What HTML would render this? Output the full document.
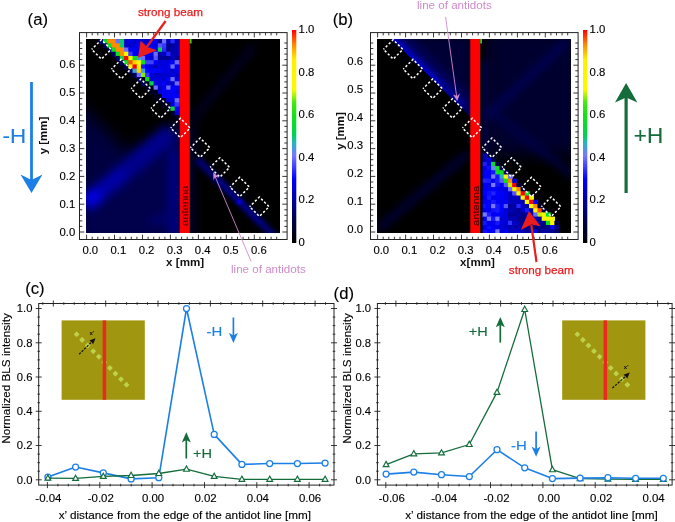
<!DOCTYPE html>
<html><head><meta charset="utf-8"><title>figure</title>
<style>html,body{margin:0;padding:0;background:#fff}svg{display:block}</style></head>
<body>
<svg width="675" height="522" viewBox="0 0 675 522" font-family="Liberation Sans, Arial, sans-serif">
<defs>
<filter id="b1" x="-20%" y="-20%" width="140%" height="140%"><feGaussianBlur stdDeviation="0.7"/></filter>
<filter id="b2" x="-100%" y="-100%" width="300%" height="300%"><feGaussianBlur stdDeviation="1.3"/></filter>
<filter id="b4" x="-50%" y="-50%" width="200%" height="200%"><feGaussianBlur stdDeviation="4"/></filter>
<filter id="b3" x="-50%" y="-50%" width="200%" height="200%"><feGaussianBlur stdDeviation="2.5"/></filter>
<filter id="b8" x="-50%" y="-50%" width="200%" height="200%"><feGaussianBlur stdDeviation="8"/></filter>
<linearGradient id="cb" x1="0" y1="1" x2="0" y2="0">
<stop offset="0.0" stop-color="#000000"/>
<stop offset="0.1" stop-color="#000046"/>
<stop offset="0.2" stop-color="#0000a0"/>
<stop offset="0.3" stop-color="#0000ff"/>
<stop offset="0.41" stop-color="#7878ff"/>
<stop offset="0.47" stop-color="#28b4be"/>
<stop offset="0.51" stop-color="#00d250"/>
<stop offset="0.6" stop-color="#14e114"/>
<stop offset="0.66" stop-color="#46e80f"/>
<stop offset="0.72" stop-color="#fafa00"/>
<stop offset="0.86" stop-color="#fff000"/>
<stop offset="0.93" stop-color="#ff8c00"/>
<stop offset="1.0" stop-color="#ff0000"/>
</linearGradient>
<clipPath id="clipA"><rect x="86" y="39" width="194" height="194"/></clipPath>
<clipPath id="clipB"><rect x="377" y="39" width="194" height="194"/></clipPath>
</defs>
<rect width="675" height="522" fill="#fff"/>
<rect x="79.5" y="32.6" width="207.60000000000002" height="206.9" fill="#fff" stroke="#222" stroke-width="1"/><path d="M86.6 239.5v-4.8M86.6 32.6v4.8" stroke="#222" stroke-width="0.9"/><path d="M92.2 239.5v-2.8M92.2 32.6v2.8" stroke="#222" stroke-width="0.9"/><path d="M97.8 239.5v-2.8M97.8 32.6v2.8" stroke="#222" stroke-width="0.9"/><path d="M103.4 239.5v-2.8M103.4 32.6v2.8" stroke="#222" stroke-width="0.9"/><path d="M109.0 239.5v-2.8M109.0 32.6v2.8" stroke="#222" stroke-width="0.9"/><path d="M114.5 239.5v-4.8M114.5 32.6v4.8" stroke="#222" stroke-width="0.9"/><path d="M120.1 239.5v-2.8M120.1 32.6v2.8" stroke="#222" stroke-width="0.9"/><path d="M125.7 239.5v-2.8M125.7 32.6v2.8" stroke="#222" stroke-width="0.9"/><path d="M131.3 239.5v-2.8M131.3 32.6v2.8" stroke="#222" stroke-width="0.9"/><path d="M136.9 239.5v-2.8M136.9 32.6v2.8" stroke="#222" stroke-width="0.9"/><path d="M142.5 239.5v-4.8M142.5 32.6v4.8" stroke="#222" stroke-width="0.9"/><path d="M148.1 239.5v-2.8M148.1 32.6v2.8" stroke="#222" stroke-width="0.9"/><path d="M153.7 239.5v-2.8M153.7 32.6v2.8" stroke="#222" stroke-width="0.9"/><path d="M159.3 239.5v-2.8M159.3 32.6v2.8" stroke="#222" stroke-width="0.9"/><path d="M164.9 239.5v-2.8M164.9 32.6v2.8" stroke="#222" stroke-width="0.9"/><path d="M170.4 239.5v-4.8M170.4 32.6v4.8" stroke="#222" stroke-width="0.9"/><path d="M176.0 239.5v-2.8M176.0 32.6v2.8" stroke="#222" stroke-width="0.9"/><path d="M181.6 239.5v-2.8M181.6 32.6v2.8" stroke="#222" stroke-width="0.9"/><path d="M187.2 239.5v-2.8M187.2 32.6v2.8" stroke="#222" stroke-width="0.9"/><path d="M192.8 239.5v-2.8M192.8 32.6v2.8" stroke="#222" stroke-width="0.9"/><path d="M198.4 239.5v-4.8M198.4 32.6v4.8" stroke="#222" stroke-width="0.9"/><path d="M204.0 239.5v-2.8M204.0 32.6v2.8" stroke="#222" stroke-width="0.9"/><path d="M209.6 239.5v-2.8M209.6 32.6v2.8" stroke="#222" stroke-width="0.9"/><path d="M215.2 239.5v-2.8M215.2 32.6v2.8" stroke="#222" stroke-width="0.9"/><path d="M220.8 239.5v-2.8M220.8 32.6v2.8" stroke="#222" stroke-width="0.9"/><path d="M226.3 239.5v-4.8M226.3 32.6v4.8" stroke="#222" stroke-width="0.9"/><path d="M231.9 239.5v-2.8M231.9 32.6v2.8" stroke="#222" stroke-width="0.9"/><path d="M237.5 239.5v-2.8M237.5 32.6v2.8" stroke="#222" stroke-width="0.9"/><path d="M243.1 239.5v-2.8M243.1 32.6v2.8" stroke="#222" stroke-width="0.9"/><path d="M248.7 239.5v-2.8M248.7 32.6v2.8" stroke="#222" stroke-width="0.9"/><path d="M254.3 239.5v-4.8M254.3 32.6v4.8" stroke="#222" stroke-width="0.9"/><path d="M259.9 239.5v-2.8M259.9 32.6v2.8" stroke="#222" stroke-width="0.9"/><path d="M265.5 239.5v-2.8M265.5 32.6v2.8" stroke="#222" stroke-width="0.9"/><path d="M271.1 239.5v-2.8M271.1 32.6v2.8" stroke="#222" stroke-width="0.9"/><path d="M276.7 239.5v-2.8M276.7 32.6v2.8" stroke="#222" stroke-width="0.9"/><path d="M79.5 232.0h4.8M287.1 232.0h-4.8" stroke="#222" stroke-width="0.9"/><path d="M79.5 226.4h2.8M287.1 226.4h-2.8" stroke="#222" stroke-width="0.9"/><path d="M79.5 220.9h2.8M287.1 220.9h-2.8" stroke="#222" stroke-width="0.9"/><path d="M79.5 215.3h2.8M287.1 215.3h-2.8" stroke="#222" stroke-width="0.9"/><path d="M79.5 209.8h2.8M287.1 209.8h-2.8" stroke="#222" stroke-width="0.9"/><path d="M79.5 204.2h4.8M287.1 204.2h-4.8" stroke="#222" stroke-width="0.9"/><path d="M79.5 198.6h2.8M287.1 198.6h-2.8" stroke="#222" stroke-width="0.9"/><path d="M79.5 193.1h2.8M287.1 193.1h-2.8" stroke="#222" stroke-width="0.9"/><path d="M79.5 187.5h2.8M287.1 187.5h-2.8" stroke="#222" stroke-width="0.9"/><path d="M79.5 182.0h2.8M287.1 182.0h-2.8" stroke="#222" stroke-width="0.9"/><path d="M79.5 176.4h4.8M287.1 176.4h-4.8" stroke="#222" stroke-width="0.9"/><path d="M79.5 170.8h2.8M287.1 170.8h-2.8" stroke="#222" stroke-width="0.9"/><path d="M79.5 165.3h2.8M287.1 165.3h-2.8" stroke="#222" stroke-width="0.9"/><path d="M79.5 159.7h2.8M287.1 159.7h-2.8" stroke="#222" stroke-width="0.9"/><path d="M79.5 154.2h2.8M287.1 154.2h-2.8" stroke="#222" stroke-width="0.9"/><path d="M79.5 148.6h4.8M287.1 148.6h-4.8" stroke="#222" stroke-width="0.9"/><path d="M79.5 143.0h2.8M287.1 143.0h-2.8" stroke="#222" stroke-width="0.9"/><path d="M79.5 137.5h2.8M287.1 137.5h-2.8" stroke="#222" stroke-width="0.9"/><path d="M79.5 131.9h2.8M287.1 131.9h-2.8" stroke="#222" stroke-width="0.9"/><path d="M79.5 126.4h2.8M287.1 126.4h-2.8" stroke="#222" stroke-width="0.9"/><path d="M79.5 120.8h4.8M287.1 120.8h-4.8" stroke="#222" stroke-width="0.9"/><path d="M79.5 115.2h2.8M287.1 115.2h-2.8" stroke="#222" stroke-width="0.9"/><path d="M79.5 109.7h2.8M287.1 109.7h-2.8" stroke="#222" stroke-width="0.9"/><path d="M79.5 104.1h2.8M287.1 104.1h-2.8" stroke="#222" stroke-width="0.9"/><path d="M79.5 98.6h2.8M287.1 98.6h-2.8" stroke="#222" stroke-width="0.9"/><path d="M79.5 93.0h4.8M287.1 93.0h-4.8" stroke="#222" stroke-width="0.9"/><path d="M79.5 87.4h2.8M287.1 87.4h-2.8" stroke="#222" stroke-width="0.9"/><path d="M79.5 81.9h2.8M287.1 81.9h-2.8" stroke="#222" stroke-width="0.9"/><path d="M79.5 76.3h2.8M287.1 76.3h-2.8" stroke="#222" stroke-width="0.9"/><path d="M79.5 70.8h2.8M287.1 70.8h-2.8" stroke="#222" stroke-width="0.9"/><path d="M79.5 65.2h4.8M287.1 65.2h-4.8" stroke="#222" stroke-width="0.9"/><path d="M79.5 59.6h2.8M287.1 59.6h-2.8" stroke="#222" stroke-width="0.9"/><path d="M79.5 54.1h2.8M287.1 54.1h-2.8" stroke="#222" stroke-width="0.9"/><path d="M79.5 48.5h2.8M287.1 48.5h-2.8" stroke="#222" stroke-width="0.9"/><path d="M79.5 43.0h2.8M287.1 43.0h-2.8" stroke="#222" stroke-width="0.9"/>
<g clip-path="url(#clipA)">
<rect x="86" y="39" width="194" height="194" fill="#000"/>
<g filter="url(#b8)"><path d="M76 152L128 152L190 118L190 245L76 245Z" fill="#00004c"/><path d="M76 100L132 158L76 200Z" fill="#000040"/></g>
<g filter="url(#b4)"><path d="M84 206L172 132" stroke="#00008c" stroke-width="18" fill="none"/><path d="M84 204L124 172" stroke="#0000a8" stroke-width="12" fill="none"/><circle cx="93" cy="197" r="8" fill="#0000e0"/><path d="M173 150V236" stroke="#000088" stroke-width="9"/><path d="M150 222L176 214" stroke="#000070" stroke-width="8"/><path d="M192 120L255 45" stroke="#000024" stroke-width="8"/></g>
<g filter="url(#b3)"><path d="M197 159L277 239" stroke="#000078" stroke-width="7" fill="none"/><path d="M215 177L262 224" stroke="#00009c" stroke-width="4" fill="none"/></g><circle cx="239.4" cy="202" r="2.4" fill="#0000f0" filter="url(#b2)"/>
<g filter="url(#b1)"><rect x="98.75" y="39.10" width="4.92" height="4.92" fill="#00007c"/><rect x="102.97" y="39.10" width="4.92" height="4.92" fill="#10de21"/><rect x="107.19" y="39.10" width="4.92" height="4.92" fill="#ff8c00"/><rect x="111.40" y="39.10" width="4.92" height="4.92" fill="#ff8c00"/><rect x="115.62" y="39.10" width="4.92" height="4.92" fill="#6d6dff"/><rect x="119.84" y="39.10" width="4.92" height="4.92" fill="#0aca6c"/><rect x="124.06" y="39.10" width="4.92" height="4.92" fill="#0000ca"/><rect x="128.27" y="39.10" width="4.92" height="4.92" fill="#0000e8"/><rect x="132.49" y="39.10" width="4.92" height="4.92" fill="#0000c8"/><rect x="136.71" y="39.10" width="4.92" height="4.92" fill="#0000e3"/><rect x="140.93" y="39.10" width="4.92" height="4.92" fill="#0000cb"/><rect x="145.14" y="39.10" width="4.92" height="4.92" fill="#0000cc"/><rect x="149.36" y="39.10" width="4.92" height="4.92" fill="#0000e2"/><rect x="153.58" y="39.10" width="4.92" height="4.92" fill="#0000fd"/><rect x="157.80" y="39.10" width="4.92" height="4.92" fill="#000096"/><rect x="162.01" y="39.10" width="4.92" height="4.92" fill="#6d6dff"/><rect x="166.23" y="39.10" width="4.92" height="4.92" fill="#0000b7"/><rect x="170.45" y="39.10" width="4.92" height="4.92" fill="#2828ff"/><rect x="174.67" y="39.10" width="4.92" height="4.92" fill="#0000b3"/><rect x="102.97" y="43.32" width="4.92" height="4.92" fill="#000061"/><rect x="107.19" y="43.32" width="4.92" height="4.92" fill="#10de21"/><rect x="111.40" y="43.32" width="4.92" height="4.92" fill="#ff8c00"/><rect x="115.62" y="43.32" width="4.92" height="4.92" fill="#ff8c00"/><rect x="119.84" y="43.32" width="4.92" height="4.92" fill="#0aca6c"/><rect x="124.06" y="43.32" width="4.92" height="4.92" fill="#0000d0"/><rect x="128.27" y="43.32" width="4.92" height="4.92" fill="#0000ce"/><rect x="132.49" y="43.32" width="4.92" height="4.92" fill="#0000db"/><rect x="136.71" y="43.32" width="4.92" height="4.92" fill="#0000fc"/><rect x="140.93" y="43.32" width="4.92" height="4.92" fill="#0000d2"/><rect x="145.14" y="43.32" width="4.92" height="4.92" fill="#0000ed"/><rect x="149.36" y="43.32" width="4.92" height="4.92" fill="#0000f0"/><rect x="153.58" y="43.32" width="4.92" height="4.92" fill="#0000df"/><rect x="157.80" y="43.32" width="4.92" height="4.92" fill="#5757ff"/><rect x="162.01" y="43.32" width="4.92" height="4.92" fill="#3737ff"/><rect x="166.23" y="43.32" width="4.92" height="4.92" fill="#000092"/><rect x="170.45" y="43.32" width="4.92" height="4.92" fill="#00009b"/><rect x="174.67" y="43.32" width="4.92" height="4.92" fill="#0000ba"/><rect x="107.19" y="47.53" width="4.92" height="4.92" fill="#000061"/><rect x="111.40" y="47.53" width="4.92" height="4.92" fill="#10de21"/><rect x="115.62" y="47.53" width="4.92" height="4.92" fill="#ff8c00"/><rect x="119.84" y="47.53" width="4.92" height="4.92" fill="#ff8c00"/><rect x="124.06" y="47.53" width="4.92" height="4.92" fill="#6d6dff"/><rect x="128.27" y="47.53" width="4.92" height="4.92" fill="#0000fb"/><rect x="132.49" y="47.53" width="4.92" height="4.92" fill="#0000f4"/><rect x="136.71" y="47.53" width="4.92" height="4.92" fill="#0000d6"/><rect x="140.93" y="47.53" width="4.92" height="4.92" fill="#0000ec"/><rect x="145.14" y="47.53" width="4.92" height="4.92" fill="#0000e9"/><rect x="149.36" y="47.53" width="4.92" height="4.92" fill="#0101ff"/><rect x="153.58" y="47.53" width="4.92" height="4.92" fill="#0000f7"/><rect x="157.80" y="47.53" width="4.92" height="4.92" fill="#09d935"/><rect x="162.01" y="47.53" width="4.92" height="4.92" fill="#2a2aff"/><rect x="166.23" y="47.53" width="4.92" height="4.92" fill="#000095"/><rect x="170.45" y="47.53" width="4.92" height="4.92" fill="#0000a9"/><rect x="174.67" y="47.53" width="4.92" height="4.92" fill="#0000bf"/><rect x="111.40" y="51.75" width="4.92" height="4.92" fill="#000061"/><rect x="115.62" y="51.75" width="4.92" height="4.92" fill="#10de21"/><rect x="119.84" y="51.75" width="4.92" height="4.92" fill="#ff8c00"/><rect x="124.06" y="51.75" width="4.92" height="4.92" fill="#fcf600"/><rect x="128.27" y="51.75" width="4.92" height="4.92" fill="#3737ff"/><rect x="132.49" y="51.75" width="4.92" height="4.92" fill="#0000ec"/><rect x="136.71" y="51.75" width="4.92" height="4.92" fill="#0101ff"/><rect x="140.93" y="51.75" width="4.92" height="4.92" fill="#0000db"/><rect x="145.14" y="51.75" width="4.92" height="4.92" fill="#0000f4"/><rect x="149.36" y="51.75" width="4.92" height="4.92" fill="#0000ee"/><rect x="153.58" y="51.75" width="4.92" height="4.92" fill="#6d6dff"/><rect x="157.80" y="51.75" width="4.92" height="4.92" fill="#0000ab"/><rect x="162.01" y="51.75" width="4.92" height="4.92" fill="#0000c5"/><rect x="166.23" y="51.75" width="4.92" height="4.92" fill="#2727ff"/><rect x="170.45" y="51.75" width="4.92" height="4.92" fill="#0000ad"/><rect x="174.67" y="51.75" width="4.92" height="4.92" fill="#0000b9"/><rect x="115.62" y="55.97" width="4.92" height="4.92" fill="#000061"/><rect x="119.84" y="55.97" width="4.92" height="4.92" fill="#07d73c"/><rect x="124.06" y="55.97" width="4.92" height="4.92" fill="#ff0000"/><rect x="128.27" y="55.97" width="4.92" height="4.92" fill="#fcf600"/><rect x="132.49" y="55.97" width="4.92" height="4.92" fill="#10de21"/><rect x="136.71" y="55.97" width="4.92" height="4.92" fill="#43a0d4"/><rect x="140.93" y="55.97" width="4.92" height="4.92" fill="#6d6dff"/><rect x="145.14" y="55.97" width="4.92" height="4.92" fill="#0000f2"/><rect x="149.36" y="55.97" width="4.92" height="4.92" fill="#0000c8"/><rect x="153.58" y="55.97" width="4.92" height="4.92" fill="#5757ff"/><rect x="157.80" y="55.97" width="4.92" height="4.92" fill="#000099"/><rect x="162.01" y="55.97" width="4.92" height="4.92" fill="#000095"/><rect x="166.23" y="55.97" width="4.92" height="4.92" fill="#000092"/><rect x="170.45" y="55.97" width="4.92" height="4.92" fill="#0000c0"/><rect x="174.67" y="55.97" width="4.92" height="4.92" fill="#000096"/><rect x="119.84" y="60.19" width="4.92" height="4.92" fill="#000061"/><rect x="124.06" y="60.19" width="4.92" height="4.92" fill="#10de21"/><rect x="128.27" y="60.19" width="4.92" height="4.92" fill="#ff5000"/><rect x="132.49" y="60.19" width="4.92" height="4.92" fill="#ffd300"/><rect x="136.71" y="60.19" width="4.92" height="4.92" fill="#fcf600"/><rect x="140.93" y="60.19" width="4.92" height="4.92" fill="#10de21"/><rect x="145.14" y="60.19" width="4.92" height="4.92" fill="#4141ff"/><rect x="149.36" y="60.19" width="4.92" height="4.92" fill="#4141ff"/><rect x="153.58" y="60.19" width="4.92" height="4.92" fill="#0101ff"/><rect x="157.80" y="60.19" width="4.92" height="4.92" fill="#0000d9"/><rect x="162.01" y="60.19" width="4.92" height="4.92" fill="#0000e2"/><rect x="166.23" y="60.19" width="4.92" height="4.92" fill="#0000de"/><rect x="170.45" y="60.19" width="4.92" height="4.92" fill="#0202ff"/><rect x="174.67" y="60.19" width="4.92" height="4.92" fill="#6a6aff"/><rect x="124.06" y="64.40" width="4.92" height="4.92" fill="#000061"/><rect x="128.27" y="64.40" width="4.92" height="4.92" fill="#fcf600"/><rect x="132.49" y="64.40" width="4.92" height="4.92" fill="#ff0000"/><rect x="136.71" y="64.40" width="4.92" height="4.92" fill="#fdf400"/><rect x="140.93" y="64.40" width="4.92" height="4.92" fill="#1616ff"/><rect x="145.14" y="64.40" width="4.92" height="4.92" fill="#0000ed"/><rect x="149.36" y="64.40" width="4.92" height="4.92" fill="#0000d7"/><rect x="153.58" y="64.40" width="4.92" height="4.92" fill="#0000c6"/><rect x="157.80" y="64.40" width="4.92" height="4.92" fill="#0000e2"/><rect x="162.01" y="64.40" width="4.92" height="4.92" fill="#0000df"/><rect x="166.23" y="64.40" width="4.92" height="4.92" fill="#0000ec"/><rect x="170.45" y="64.40" width="4.92" height="4.92" fill="#6a6aff"/><rect x="174.67" y="64.40" width="4.92" height="4.92" fill="#0000f4"/><rect x="128.27" y="68.62" width="4.92" height="4.92" fill="#000061"/><rect x="132.49" y="68.62" width="4.92" height="4.92" fill="#43a0d4"/><rect x="136.71" y="68.62" width="4.92" height="4.92" fill="#ffd300"/><rect x="140.93" y="68.62" width="4.92" height="4.92" fill="#43a0d4"/><rect x="145.14" y="68.62" width="4.92" height="4.92" fill="#0303ff"/><rect x="149.36" y="68.62" width="4.92" height="4.92" fill="#0000fa"/><rect x="153.58" y="68.62" width="4.92" height="4.92" fill="#0101ff"/><rect x="157.80" y="68.62" width="4.92" height="4.92" fill="#0000fb"/><rect x="162.01" y="68.62" width="4.92" height="4.92" fill="#0000e0"/><rect x="166.23" y="68.62" width="4.92" height="4.92" fill="#0000e1"/><rect x="170.45" y="68.62" width="4.92" height="4.92" fill="#0000cd"/><rect x="174.67" y="68.62" width="4.92" height="4.92" fill="#0000f0"/><rect x="132.49" y="72.84" width="4.92" height="4.92" fill="#000061"/><rect x="136.71" y="72.84" width="4.92" height="4.92" fill="#6d6dff"/><rect x="140.93" y="72.84" width="4.92" height="4.92" fill="#82ee0a"/><rect x="145.14" y="72.84" width="4.92" height="4.92" fill="#3737ff"/><rect x="149.36" y="72.84" width="4.92" height="4.92" fill="#0000dd"/><rect x="153.58" y="72.84" width="4.92" height="4.92" fill="#0000c9"/><rect x="157.80" y="72.84" width="4.92" height="4.92" fill="#0000c6"/><rect x="162.01" y="72.84" width="4.92" height="4.92" fill="#0000d0"/><rect x="166.23" y="72.84" width="4.92" height="4.92" fill="#0000cd"/><rect x="170.45" y="72.84" width="4.92" height="4.92" fill="#0000de"/><rect x="174.67" y="72.84" width="4.92" height="4.92" fill="#0000c8"/><rect x="136.71" y="77.06" width="4.92" height="4.92" fill="#000061"/><rect x="140.93" y="77.06" width="4.92" height="4.92" fill="#00001c"/><rect x="145.14" y="77.06" width="4.92" height="4.92" fill="#10de21"/><rect x="149.36" y="77.06" width="4.92" height="4.92" fill="#0000d7"/><rect x="153.58" y="77.06" width="4.92" height="4.92" fill="#0000dd"/><rect x="157.80" y="77.06" width="4.92" height="4.92" fill="#0000de"/><rect x="162.01" y="77.06" width="4.92" height="4.92" fill="#0000ce"/><rect x="166.23" y="77.06" width="4.92" height="4.92" fill="#0000fe"/><rect x="170.45" y="77.06" width="4.92" height="4.92" fill="#6d6dff"/><rect x="174.67" y="77.06" width="4.92" height="4.92" fill="#0000e5"/><rect x="140.93" y="81.27" width="4.92" height="4.92" fill="#000061"/><rect x="145.14" y="81.27" width="4.92" height="4.92" fill="#00001c"/><rect x="149.36" y="81.27" width="4.92" height="4.92" fill="#02d449"/><rect x="153.58" y="81.27" width="4.92" height="4.92" fill="#0000dd"/><rect x="157.80" y="81.27" width="4.92" height="4.92" fill="#0000d8"/><rect x="162.01" y="81.27" width="4.92" height="4.92" fill="#0000fd"/><rect x="166.23" y="81.27" width="4.92" height="4.92" fill="#0000d1"/><rect x="170.45" y="81.27" width="4.92" height="4.92" fill="#0000c8"/><rect x="174.67" y="81.27" width="4.92" height="4.92" fill="#6969ff"/><rect x="145.14" y="85.49" width="4.92" height="4.92" fill="#000023"/><rect x="149.36" y="85.49" width="4.92" height="4.92" fill="#00001c"/><rect x="153.58" y="85.49" width="4.92" height="4.92" fill="#6d6dff"/><rect x="157.80" y="85.49" width="4.92" height="4.92" fill="#0000c8"/><rect x="162.01" y="85.49" width="4.92" height="4.92" fill="#0000e9"/><rect x="166.23" y="85.49" width="4.92" height="4.92" fill="#6b6bff"/><rect x="170.45" y="85.49" width="4.92" height="4.92" fill="#0000ff"/><rect x="174.67" y="85.49" width="4.92" height="4.92" fill="#0000f4"/><rect x="149.36" y="89.71" width="4.92" height="4.92" fill="#000023"/><rect x="153.58" y="89.71" width="4.92" height="4.92" fill="#00001c"/><rect x="157.80" y="89.71" width="4.92" height="4.92" fill="#0000d6"/><rect x="162.01" y="89.71" width="4.92" height="4.92" fill="#0000f9"/><rect x="166.23" y="89.71" width="4.92" height="4.92" fill="#0000e9"/><rect x="170.45" y="89.71" width="4.92" height="4.92" fill="#0000fa"/><rect x="174.67" y="89.71" width="4.92" height="4.92" fill="#0000dc"/><rect x="153.58" y="93.93" width="4.92" height="4.92" fill="#000023"/><rect x="157.80" y="93.93" width="4.92" height="4.92" fill="#00001c"/><rect x="162.01" y="93.93" width="4.92" height="4.92" fill="#0000f5"/><rect x="166.23" y="93.93" width="4.92" height="4.92" fill="#0000ff"/><rect x="170.45" y="93.93" width="4.92" height="4.92" fill="#0000fc"/><rect x="174.67" y="93.93" width="4.92" height="4.92" fill="#0000fc"/><rect x="157.80" y="98.14" width="4.92" height="4.92" fill="#000023"/><rect x="162.01" y="98.14" width="4.92" height="4.92" fill="#00001c"/><rect x="166.23" y="98.14" width="4.92" height="4.92" fill="#0000e2"/><rect x="170.45" y="98.14" width="4.92" height="4.92" fill="#0000de"/><rect x="174.67" y="98.14" width="4.92" height="4.92" fill="#6d6dff"/><rect x="162.01" y="102.36" width="4.92" height="4.92" fill="#000023"/><rect x="166.23" y="102.36" width="4.92" height="4.92" fill="#00001c"/><rect x="170.45" y="102.36" width="4.92" height="4.92" fill="#0000ec"/><rect x="174.67" y="102.36" width="4.92" height="4.92" fill="#3737ff"/><rect x="166.23" y="106.58" width="4.92" height="4.92" fill="#000023"/><rect x="170.45" y="106.58" width="4.92" height="4.92" fill="#09d935"/><rect x="174.67" y="106.58" width="4.92" height="4.92" fill="#0000ff"/><rect x="170.45" y="110.80" width="4.92" height="4.92" fill="#000023"/><rect x="174.67" y="110.80" width="4.92" height="4.92" fill="#0000d9"/><rect x="174.67" y="115.01" width="4.92" height="4.92" fill="#000023"/></g>
<rect x="179.7" y="39" width="10.1" height="194" fill="#ff0000"/>
<rect x="189.8" y="39" width="1.8" height="4.5" fill="#30d020"/>
<g fill="none" stroke="#fff" stroke-width="1.5" stroke-dasharray="2.3 2.03" stroke-dashoffset="1.15"><path d="M91.7 49.4L101.4 39.7L111.1 49.4L101.4 59.1Z"/><path d="M111.5 69.1L121.2 59.4L130.8 69.1L121.2 78.8Z"/><path d="M131.2 88.7L140.9 79.0L150.6 88.7L140.9 98.4Z"/><path d="M151.0 108.4L160.7 98.7L170.3 108.4L160.7 118.1Z"/><path d="M170.7 128.0L180.4 118.3L190.1 128.0L180.4 137.7Z"/><path d="M190.5 147.7L200.2 138.0L209.8 147.7L200.2 157.4Z"/><path d="M210.2 167.4L219.9 157.7L229.6 167.4L219.9 177.1Z"/><path d="M230.0 187.0L239.7 177.3L249.3 187.0L239.7 196.7Z"/><path d="M249.7 206.7L259.4 197.0L269.1 206.7L259.4 216.4Z"/></g>
</g>
<text transform="translate(188,225.9) rotate(-90) scale(1.12,1)" font-size="9.9" fill="#5c0000" stroke="#5c0000" stroke-width="0.25">antenna</text>
<rect x="370.5" y="32.6" width="207.60000000000002" height="206.9" fill="#fff" stroke="#222" stroke-width="1"/><path d="M377.6 239.5v-4.8M377.6 32.6v4.8" stroke="#222" stroke-width="0.9"/><path d="M383.2 239.5v-2.8M383.2 32.6v2.8" stroke="#222" stroke-width="0.9"/><path d="M388.8 239.5v-2.8M388.8 32.6v2.8" stroke="#222" stroke-width="0.9"/><path d="M394.4 239.5v-2.8M394.4 32.6v2.8" stroke="#222" stroke-width="0.9"/><path d="M400.0 239.5v-2.8M400.0 32.6v2.8" stroke="#222" stroke-width="0.9"/><path d="M405.6 239.5v-4.8M405.6 32.6v4.8" stroke="#222" stroke-width="0.9"/><path d="M411.1 239.5v-2.8M411.1 32.6v2.8" stroke="#222" stroke-width="0.9"/><path d="M416.7 239.5v-2.8M416.7 32.6v2.8" stroke="#222" stroke-width="0.9"/><path d="M422.3 239.5v-2.8M422.3 32.6v2.8" stroke="#222" stroke-width="0.9"/><path d="M427.9 239.5v-2.8M427.9 32.6v2.8" stroke="#222" stroke-width="0.9"/><path d="M433.5 239.5v-4.8M433.5 32.6v4.8" stroke="#222" stroke-width="0.9"/><path d="M439.1 239.5v-2.8M439.1 32.6v2.8" stroke="#222" stroke-width="0.9"/><path d="M444.7 239.5v-2.8M444.7 32.6v2.8" stroke="#222" stroke-width="0.9"/><path d="M450.3 239.5v-2.8M450.3 32.6v2.8" stroke="#222" stroke-width="0.9"/><path d="M455.9 239.5v-2.8M455.9 32.6v2.8" stroke="#222" stroke-width="0.9"/><path d="M461.5 239.5v-4.8M461.5 32.6v4.8" stroke="#222" stroke-width="0.9"/><path d="M467.0 239.5v-2.8M467.0 32.6v2.8" stroke="#222" stroke-width="0.9"/><path d="M472.6 239.5v-2.8M472.6 32.6v2.8" stroke="#222" stroke-width="0.9"/><path d="M478.2 239.5v-2.8M478.2 32.6v2.8" stroke="#222" stroke-width="0.9"/><path d="M483.8 239.5v-2.8M483.8 32.6v2.8" stroke="#222" stroke-width="0.9"/><path d="M489.4 239.5v-4.8M489.4 32.6v4.8" stroke="#222" stroke-width="0.9"/><path d="M495.0 239.5v-2.8M495.0 32.6v2.8" stroke="#222" stroke-width="0.9"/><path d="M500.6 239.5v-2.8M500.6 32.6v2.8" stroke="#222" stroke-width="0.9"/><path d="M506.2 239.5v-2.8M506.2 32.6v2.8" stroke="#222" stroke-width="0.9"/><path d="M511.8 239.5v-2.8M511.8 32.6v2.8" stroke="#222" stroke-width="0.9"/><path d="M517.4 239.5v-4.8M517.4 32.6v4.8" stroke="#222" stroke-width="0.9"/><path d="M522.9 239.5v-2.8M522.9 32.6v2.8" stroke="#222" stroke-width="0.9"/><path d="M528.5 239.5v-2.8M528.5 32.6v2.8" stroke="#222" stroke-width="0.9"/><path d="M534.1 239.5v-2.8M534.1 32.6v2.8" stroke="#222" stroke-width="0.9"/><path d="M539.7 239.5v-2.8M539.7 32.6v2.8" stroke="#222" stroke-width="0.9"/><path d="M545.3 239.5v-4.8M545.3 32.6v4.8" stroke="#222" stroke-width="0.9"/><path d="M550.9 239.5v-2.8M550.9 32.6v2.8" stroke="#222" stroke-width="0.9"/><path d="M556.5 239.5v-2.8M556.5 32.6v2.8" stroke="#222" stroke-width="0.9"/><path d="M562.1 239.5v-2.8M562.1 32.6v2.8" stroke="#222" stroke-width="0.9"/><path d="M567.7 239.5v-2.8M567.7 32.6v2.8" stroke="#222" stroke-width="0.9"/><path d="M370.5 232.0h4.8M578.1 232.0h-4.8" stroke="#222" stroke-width="0.9"/><path d="M370.5 226.4h2.8M578.1 226.4h-2.8" stroke="#222" stroke-width="0.9"/><path d="M370.5 220.9h2.8M578.1 220.9h-2.8" stroke="#222" stroke-width="0.9"/><path d="M370.5 215.3h2.8M578.1 215.3h-2.8" stroke="#222" stroke-width="0.9"/><path d="M370.5 209.8h2.8M578.1 209.8h-2.8" stroke="#222" stroke-width="0.9"/><path d="M370.5 204.2h4.8M578.1 204.2h-4.8" stroke="#222" stroke-width="0.9"/><path d="M370.5 198.6h2.8M578.1 198.6h-2.8" stroke="#222" stroke-width="0.9"/><path d="M370.5 193.1h2.8M578.1 193.1h-2.8" stroke="#222" stroke-width="0.9"/><path d="M370.5 187.5h2.8M578.1 187.5h-2.8" stroke="#222" stroke-width="0.9"/><path d="M370.5 182.0h2.8M578.1 182.0h-2.8" stroke="#222" stroke-width="0.9"/><path d="M370.5 176.4h4.8M578.1 176.4h-4.8" stroke="#222" stroke-width="0.9"/><path d="M370.5 170.8h2.8M578.1 170.8h-2.8" stroke="#222" stroke-width="0.9"/><path d="M370.5 165.3h2.8M578.1 165.3h-2.8" stroke="#222" stroke-width="0.9"/><path d="M370.5 159.7h2.8M578.1 159.7h-2.8" stroke="#222" stroke-width="0.9"/><path d="M370.5 154.2h2.8M578.1 154.2h-2.8" stroke="#222" stroke-width="0.9"/><path d="M370.5 148.6h4.8M578.1 148.6h-4.8" stroke="#222" stroke-width="0.9"/><path d="M370.5 143.0h2.8M578.1 143.0h-2.8" stroke="#222" stroke-width="0.9"/><path d="M370.5 137.5h2.8M578.1 137.5h-2.8" stroke="#222" stroke-width="0.9"/><path d="M370.5 131.9h2.8M578.1 131.9h-2.8" stroke="#222" stroke-width="0.9"/><path d="M370.5 126.4h2.8M578.1 126.4h-2.8" stroke="#222" stroke-width="0.9"/><path d="M370.5 120.8h4.8M578.1 120.8h-4.8" stroke="#222" stroke-width="0.9"/><path d="M370.5 115.2h2.8M578.1 115.2h-2.8" stroke="#222" stroke-width="0.9"/><path d="M370.5 109.7h2.8M578.1 109.7h-2.8" stroke="#222" stroke-width="0.9"/><path d="M370.5 104.1h2.8M578.1 104.1h-2.8" stroke="#222" stroke-width="0.9"/><path d="M370.5 98.6h2.8M578.1 98.6h-2.8" stroke="#222" stroke-width="0.9"/><path d="M370.5 93.0h4.8M578.1 93.0h-4.8" stroke="#222" stroke-width="0.9"/><path d="M370.5 87.4h2.8M578.1 87.4h-2.8" stroke="#222" stroke-width="0.9"/><path d="M370.5 81.9h2.8M578.1 81.9h-2.8" stroke="#222" stroke-width="0.9"/><path d="M370.5 76.3h2.8M578.1 76.3h-2.8" stroke="#222" stroke-width="0.9"/><path d="M370.5 70.8h2.8M578.1 70.8h-2.8" stroke="#222" stroke-width="0.9"/><path d="M370.5 65.2h4.8M578.1 65.2h-4.8" stroke="#222" stroke-width="0.9"/><path d="M370.5 59.6h2.8M578.1 59.6h-2.8" stroke="#222" stroke-width="0.9"/><path d="M370.5 54.1h2.8M578.1 54.1h-2.8" stroke="#222" stroke-width="0.9"/><path d="M370.5 48.5h2.8M578.1 48.5h-2.8" stroke="#222" stroke-width="0.9"/><path d="M370.5 43.0h2.8M578.1 43.0h-2.8" stroke="#222" stroke-width="0.9"/>
<g clip-path="url(#clipB)">
<rect x="377" y="39" width="194" height="194" fill="#000"/>
<g filter="url(#b8)"><rect x="486" y="30" width="94" height="125" fill="#00002e"/></g>
<clipPath id="clipB2"><path d="M383.6 31L480 126.2L480 30Z"/></clipPath>
<g clip-path="url(#clipB2)"><g filter="url(#b4)"><path d="M400 36L474 36L474 118Z" fill="#000036"/><path d="M385 31L478 123" stroke="#00005c" stroke-width="26" fill="none"/></g><g filter="url(#b3)"><path d="M385 31L462 107" stroke="#000098" stroke-width="10" fill="none"/><path d="M385 31L440 85" stroke="#0000c8" stroke-width="5" fill="none"/></g></g>
<g filter="url(#b4)"><path d="M483 120L566 42" stroke="#000060" stroke-width="6" fill="none"/><path d="M489 110L574 176" stroke="#000050" stroke-width="6" fill="none"/><path d="M378 229L469 153" stroke="#000048" stroke-width="6" fill="none"/><path d="M485 60L485 160" stroke="#000050" stroke-width="6" fill="none"/></g>
<g filter="url(#b1)"><rect x="482.63" y="153.37" width="4.92" height="4.92" fill="#0000b6"/><rect x="486.85" y="153.37" width="4.92" height="4.92" fill="#000038"/><rect x="482.63" y="157.59" width="4.92" height="4.92" fill="#0000b3"/><rect x="486.85" y="157.59" width="4.92" height="4.92" fill="#0000db"/><rect x="491.07" y="157.59" width="4.92" height="4.92" fill="#000054"/><rect x="482.63" y="161.80" width="4.92" height="4.92" fill="#1c1cff"/><rect x="486.85" y="161.80" width="4.92" height="4.92" fill="#0000ce"/><rect x="491.07" y="161.80" width="4.92" height="4.92" fill="#09d935"/><rect x="495.29" y="161.80" width="4.92" height="4.92" fill="#00004f"/><rect x="482.63" y="166.02" width="4.92" height="4.92" fill="#0000ec"/><rect x="486.85" y="166.02" width="4.92" height="4.92" fill="#1010ff"/><rect x="491.07" y="166.02" width="4.92" height="4.92" fill="#5d8ce9"/><rect x="495.29" y="166.02" width="4.92" height="4.92" fill="#10de21"/><rect x="499.50" y="166.02" width="4.92" height="4.92" fill="#00004d"/><rect x="482.63" y="170.24" width="4.92" height="4.92" fill="#0404ff"/><rect x="486.85" y="170.24" width="4.92" height="4.92" fill="#0000f1"/><rect x="491.07" y="170.24" width="4.92" height="4.92" fill="#1818ff"/><rect x="495.29" y="170.24" width="4.92" height="4.92" fill="#10de21"/><rect x="499.50" y="170.24" width="4.92" height="4.92" fill="#10de21"/><rect x="503.72" y="170.24" width="4.92" height="4.92" fill="#000057"/><rect x="482.63" y="174.46" width="4.92" height="4.92" fill="#0000fe"/><rect x="486.85" y="174.46" width="4.92" height="4.92" fill="#0000fe"/><rect x="491.07" y="174.46" width="4.92" height="4.92" fill="#7878ff"/><rect x="495.29" y="174.46" width="4.92" height="4.92" fill="#1414ff"/><rect x="499.50" y="174.46" width="4.92" height="4.92" fill="#28b4be"/><rect x="503.72" y="174.46" width="4.92" height="4.92" fill="#fcf600"/><rect x="507.94" y="174.46" width="4.92" height="4.92" fill="#6d6dff"/><rect x="482.63" y="178.67" width="4.92" height="4.92" fill="#2020ff"/><rect x="486.85" y="178.67" width="4.92" height="4.92" fill="#1a1aff"/><rect x="491.07" y="178.67" width="4.92" height="4.92" fill="#0000f0"/><rect x="495.29" y="178.67" width="4.92" height="4.92" fill="#1b1bff"/><rect x="499.50" y="178.67" width="4.92" height="4.92" fill="#5b5bff"/><rect x="503.72" y="178.67" width="4.92" height="4.92" fill="#14e114"/><rect x="507.94" y="178.67" width="4.92" height="4.92" fill="#ff8c00"/><rect x="512.16" y="178.67" width="4.92" height="4.92" fill="#0000d0"/><rect x="482.63" y="182.89" width="4.92" height="4.92" fill="#0000ef"/><rect x="486.85" y="182.89" width="4.92" height="4.92" fill="#0000e8"/><rect x="491.07" y="182.89" width="4.92" height="4.92" fill="#7878ff"/><rect x="495.29" y="182.89" width="4.92" height="4.92" fill="#0f0fff"/><rect x="499.50" y="182.89" width="4.92" height="4.92" fill="#0000e9"/><rect x="503.72" y="182.89" width="4.92" height="4.92" fill="#5858ff"/><rect x="507.94" y="182.89" width="4.92" height="4.92" fill="#bef405"/><rect x="512.16" y="182.89" width="4.92" height="4.92" fill="#ff0000"/><rect x="516.37" y="182.89" width="4.92" height="4.92" fill="#000050"/><rect x="482.63" y="187.11" width="4.92" height="4.92" fill="#0000f3"/><rect x="486.85" y="187.11" width="4.92" height="4.92" fill="#0000f6"/><rect x="491.07" y="187.11" width="4.92" height="4.92" fill="#0000f8"/><rect x="495.29" y="187.11" width="4.92" height="4.92" fill="#0000f5"/><rect x="499.50" y="187.11" width="4.92" height="4.92" fill="#0000ec"/><rect x="503.72" y="187.11" width="4.92" height="4.92" fill="#0000da"/><rect x="507.94" y="187.11" width="4.92" height="4.92" fill="#6d6dff"/><rect x="512.16" y="187.11" width="4.92" height="4.92" fill="#fcf600"/><rect x="516.37" y="187.11" width="4.92" height="4.92" fill="#ff8c00"/><rect x="520.59" y="187.11" width="4.92" height="4.92" fill="#00003d"/><rect x="482.63" y="191.33" width="4.92" height="4.92" fill="#0303ff"/><rect x="486.85" y="191.33" width="4.92" height="4.92" fill="#0b0bff"/><rect x="491.07" y="191.33" width="4.92" height="4.92" fill="#2020ff"/><rect x="495.29" y="191.33" width="4.92" height="4.92" fill="#0000ff"/><rect x="499.50" y="191.33" width="4.92" height="4.92" fill="#0000ff"/><rect x="503.72" y="191.33" width="4.92" height="4.92" fill="#0000e7"/><rect x="507.94" y="191.33" width="4.92" height="4.92" fill="#0000c7"/><rect x="512.16" y="191.33" width="4.92" height="4.92" fill="#5757ff"/><rect x="516.37" y="191.33" width="4.92" height="4.92" fill="#fcf600"/><rect x="520.59" y="191.33" width="4.92" height="4.92" fill="#ff0000"/><rect x="524.81" y="191.33" width="4.92" height="4.92" fill="#10de21"/><rect x="482.63" y="195.54" width="4.92" height="4.92" fill="#0000e7"/><rect x="486.85" y="195.54" width="4.92" height="4.92" fill="#1919ff"/><rect x="491.07" y="195.54" width="4.92" height="4.92" fill="#0000f1"/><rect x="495.29" y="195.54" width="4.92" height="4.92" fill="#0404ff"/><rect x="499.50" y="195.54" width="4.92" height="4.92" fill="#0000f4"/><rect x="503.72" y="195.54" width="4.92" height="4.92" fill="#0000ea"/><rect x="507.94" y="195.54" width="4.92" height="4.92" fill="#0000bb"/><rect x="512.16" y="195.54" width="4.92" height="4.92" fill="#0000c0"/><rect x="516.37" y="195.54" width="4.92" height="4.92" fill="#0000bd"/><rect x="520.59" y="195.54" width="4.92" height="4.92" fill="#fcf600"/><rect x="524.81" y="195.54" width="4.92" height="4.92" fill="#ff0000"/><rect x="529.03" y="195.54" width="4.92" height="4.92" fill="#fcf600"/><rect x="482.63" y="199.76" width="4.92" height="4.92" fill="#0000f5"/><rect x="486.85" y="199.76" width="4.92" height="4.92" fill="#0000f7"/><rect x="491.07" y="199.76" width="4.92" height="4.92" fill="#1717ff"/><rect x="495.29" y="199.76" width="4.92" height="4.92" fill="#0606ff"/><rect x="499.50" y="199.76" width="4.92" height="4.92" fill="#0000eb"/><rect x="503.72" y="199.76" width="4.92" height="4.92" fill="#0000f6"/><rect x="507.94" y="199.76" width="4.92" height="4.92" fill="#0000c0"/><rect x="512.16" y="199.76" width="4.92" height="4.92" fill="#0000bc"/><rect x="516.37" y="199.76" width="4.92" height="4.92" fill="#0000c0"/><rect x="520.59" y="199.76" width="4.92" height="4.92" fill="#0000b4"/><rect x="524.81" y="199.76" width="4.92" height="4.92" fill="#fcf600"/><rect x="529.03" y="199.76" width="4.92" height="4.92" fill="#ff0000"/><rect x="533.24" y="199.76" width="4.92" height="4.92" fill="#0000ec"/><rect x="482.63" y="203.98" width="4.92" height="4.92" fill="#0808ff"/><rect x="486.85" y="203.98" width="4.92" height="4.92" fill="#0404ff"/><rect x="491.07" y="203.98" width="4.92" height="4.92" fill="#7878ff"/><rect x="495.29" y="203.98" width="4.92" height="4.92" fill="#1212ff"/><rect x="499.50" y="203.98" width="4.92" height="4.92" fill="#0000fd"/><rect x="503.72" y="203.98" width="4.92" height="4.92" fill="#5959ff"/><rect x="507.94" y="203.98" width="4.92" height="4.92" fill="#00009b"/><rect x="512.16" y="203.98" width="4.92" height="4.92" fill="#0000a6"/><rect x="516.37" y="203.98" width="4.92" height="4.92" fill="#2525ff"/><rect x="520.59" y="203.98" width="4.92" height="4.92" fill="#0000c7"/><rect x="524.81" y="203.98" width="4.92" height="4.92" fill="#00009a"/><rect x="529.03" y="203.98" width="4.92" height="4.92" fill="#fcf600"/><rect x="533.24" y="203.98" width="4.92" height="4.92" fill="#ff8c00"/><rect x="537.46" y="203.98" width="4.92" height="4.92" fill="#000034"/><rect x="482.63" y="208.20" width="4.92" height="4.92" fill="#0000f5"/><rect x="486.85" y="208.20" width="4.92" height="4.92" fill="#0000eb"/><rect x="491.07" y="208.20" width="4.92" height="4.92" fill="#1111ff"/><rect x="495.29" y="208.20" width="4.92" height="4.92" fill="#1818ff"/><rect x="499.50" y="208.20" width="4.92" height="4.92" fill="#0000fe"/><rect x="503.72" y="208.20" width="4.92" height="4.92" fill="#0000d4"/><rect x="507.94" y="208.20" width="4.92" height="4.92" fill="#0000b5"/><rect x="512.16" y="208.20" width="4.92" height="4.92" fill="#0000ac"/><rect x="516.37" y="208.20" width="4.92" height="4.92" fill="#00008a"/><rect x="520.59" y="208.20" width="4.92" height="4.92" fill="#0000ca"/><rect x="524.81" y="208.20" width="4.92" height="4.92" fill="#1919ff"/><rect x="529.03" y="208.20" width="4.92" height="4.92" fill="#000099"/><rect x="533.24" y="208.20" width="4.92" height="4.92" fill="#fcf600"/><rect x="537.46" y="208.20" width="4.92" height="4.92" fill="#ff5000"/><rect x="541.68" y="208.20" width="4.92" height="4.92" fill="#000042"/><rect x="482.63" y="212.41" width="4.92" height="4.92" fill="#7878ff"/><rect x="486.85" y="212.41" width="4.92" height="4.92" fill="#1b1bff"/><rect x="491.07" y="212.41" width="4.92" height="4.92" fill="#0000f0"/><rect x="495.29" y="212.41" width="4.92" height="4.92" fill="#0101ff"/><rect x="499.50" y="212.41" width="4.92" height="4.92" fill="#0000e8"/><rect x="503.72" y="212.41" width="4.92" height="4.92" fill="#0000de"/><rect x="507.94" y="212.41" width="4.92" height="4.92" fill="#000098"/><rect x="512.16" y="212.41" width="4.92" height="4.92" fill="#000099"/><rect x="516.37" y="212.41" width="4.92" height="4.92" fill="#0000aa"/><rect x="520.59" y="212.41" width="4.92" height="4.92" fill="#00007e"/><rect x="524.81" y="212.41" width="4.92" height="4.92" fill="#0000b1"/><rect x="529.03" y="212.41" width="4.92" height="4.92" fill="#0000a5"/><rect x="533.24" y="212.41" width="4.92" height="4.92" fill="#6d6dff"/><rect x="537.46" y="212.41" width="4.92" height="4.92" fill="#bef405"/><rect x="541.68" y="212.41" width="4.92" height="4.92" fill="#fcf600"/><rect x="545.90" y="212.41" width="4.92" height="4.92" fill="#10de21"/><rect x="482.63" y="216.63" width="4.92" height="4.92" fill="#0000eb"/><rect x="486.85" y="216.63" width="4.92" height="4.92" fill="#7878ff"/><rect x="491.07" y="216.63" width="4.92" height="4.92" fill="#1818ff"/><rect x="495.29" y="216.63" width="4.92" height="4.92" fill="#7878ff"/><rect x="499.50" y="216.63" width="4.92" height="4.92" fill="#0000d1"/><rect x="503.72" y="216.63" width="4.92" height="4.92" fill="#0000da"/><rect x="507.94" y="216.63" width="4.92" height="4.92" fill="#0000ab"/><rect x="512.16" y="216.63" width="4.92" height="4.92" fill="#0000b3"/><rect x="516.37" y="216.63" width="4.92" height="4.92" fill="#000091"/><rect x="520.59" y="216.63" width="4.92" height="4.92" fill="#000084"/><rect x="524.81" y="216.63" width="4.92" height="4.92" fill="#00008e"/><rect x="529.03" y="216.63" width="4.92" height="4.92" fill="#0000c0"/><rect x="533.24" y="216.63" width="4.92" height="4.92" fill="#0000b5"/><rect x="537.46" y="216.63" width="4.92" height="4.92" fill="#000090"/><rect x="541.68" y="216.63" width="4.92" height="4.92" fill="#fcf600"/><rect x="545.90" y="216.63" width="4.92" height="4.92" fill="#fcf600"/><rect x="550.11" y="216.63" width="4.92" height="4.92" fill="#fcf600"/><rect x="482.63" y="220.85" width="4.92" height="4.92" fill="#1313ff"/><rect x="486.85" y="220.85" width="4.92" height="4.92" fill="#0000ec"/><rect x="491.07" y="220.85" width="4.92" height="4.92" fill="#0000eb"/><rect x="495.29" y="220.85" width="4.92" height="4.92" fill="#1212ff"/><rect x="499.50" y="220.85" width="4.92" height="4.92" fill="#0000e3"/><rect x="503.72" y="220.85" width="4.92" height="4.92" fill="#0000cf"/><rect x="507.94" y="220.85" width="4.92" height="4.92" fill="#3131ff"/><rect x="512.16" y="220.85" width="4.92" height="4.92" fill="#0000c7"/><rect x="516.37" y="220.85" width="4.92" height="4.92" fill="#0000ae"/><rect x="520.59" y="220.85" width="4.92" height="4.92" fill="#000081"/><rect x="524.81" y="220.85" width="4.92" height="4.92" fill="#0000a6"/><rect x="529.03" y="220.85" width="4.92" height="4.92" fill="#000076"/><rect x="533.24" y="220.85" width="4.92" height="4.92" fill="#0000b8"/><rect x="537.46" y="220.85" width="4.92" height="4.92" fill="#00009b"/><rect x="541.68" y="220.85" width="4.92" height="4.92" fill="#00008f"/><rect x="545.90" y="220.85" width="4.92" height="4.92" fill="#10de21"/><rect x="550.11" y="220.85" width="4.92" height="4.92" fill="#fcf600"/><rect x="554.33" y="220.85" width="4.92" height="4.92" fill="#00003a"/><rect x="482.63" y="225.07" width="4.92" height="4.92" fill="#0000ef"/><rect x="486.85" y="225.07" width="4.92" height="4.92" fill="#0707ff"/><rect x="491.07" y="225.07" width="4.92" height="4.92" fill="#0000f5"/><rect x="495.29" y="225.07" width="4.92" height="4.92" fill="#0000ed"/><rect x="499.50" y="225.07" width="4.92" height="4.92" fill="#0000d4"/><rect x="503.72" y="225.07" width="4.92" height="4.92" fill="#0000ce"/><rect x="507.94" y="225.07" width="4.92" height="4.92" fill="#0000b4"/><rect x="512.16" y="225.07" width="4.92" height="4.92" fill="#0000b5"/><rect x="516.37" y="225.07" width="4.92" height="4.92" fill="#0000af"/><rect x="520.59" y="225.07" width="4.92" height="4.92" fill="#0000a6"/><rect x="524.81" y="225.07" width="4.92" height="4.92" fill="#000087"/><rect x="529.03" y="225.07" width="4.92" height="4.92" fill="#00008d"/><rect x="533.24" y="225.07" width="4.92" height="4.92" fill="#000076"/><rect x="537.46" y="225.07" width="4.92" height="4.92" fill="#000095"/><rect x="541.68" y="225.07" width="4.92" height="4.92" fill="#00007e"/><rect x="545.90" y="225.07" width="4.92" height="4.92" fill="#000085"/><rect x="550.11" y="225.07" width="4.92" height="4.92" fill="#0000ff"/><rect x="554.33" y="225.07" width="4.92" height="4.92" fill="#000079"/><rect x="482.63" y="229.28" width="4.92" height="4.92" fill="#0909ff"/><rect x="486.85" y="229.28" width="4.92" height="4.92" fill="#0000f2"/><rect x="491.07" y="229.28" width="4.92" height="4.92" fill="#0404ff"/><rect x="495.29" y="229.28" width="4.92" height="4.92" fill="#7878ff"/><rect x="499.50" y="229.28" width="4.92" height="4.92" fill="#0000d1"/><rect x="503.72" y="229.28" width="4.92" height="4.92" fill="#0000f9"/><rect x="507.94" y="229.28" width="4.92" height="4.92" fill="#0000c1"/><rect x="512.16" y="229.28" width="4.92" height="4.92" fill="#0000bf"/><rect x="516.37" y="229.28" width="4.92" height="4.92" fill="#0000cd"/><rect x="520.59" y="229.28" width="4.92" height="4.92" fill="#0000ae"/><rect x="524.81" y="229.28" width="4.92" height="4.92" fill="#000093"/><rect x="529.03" y="229.28" width="4.92" height="4.92" fill="#000097"/><rect x="533.24" y="229.28" width="4.92" height="4.92" fill="#0000ee"/><rect x="537.46" y="229.28" width="4.92" height="4.92" fill="#00007a"/><rect x="541.68" y="229.28" width="4.92" height="4.92" fill="#0000aa"/><rect x="545.90" y="229.28" width="4.92" height="4.92" fill="#00009e"/><rect x="550.11" y="229.28" width="4.92" height="4.92" fill="#000094"/><rect x="554.33" y="229.28" width="4.92" height="4.92" fill="#00006a"/></g>
<rect x="470.3" y="39" width="9.9" height="194" fill="#ff0000"/>
<rect x="480.2" y="39" width="1.8" height="4.5" fill="#30d020"/>
<g fill="none" stroke="#fff" stroke-width="1.5" stroke-dasharray="2.3 2.03" stroke-dashoffset="1.15"><path d="M383.5 49.4L393.2 39.7L402.9 49.4L393.2 59.1Z"/><path d="M403.3 69.1L413.0 59.4L422.7 69.1L413.0 78.8Z"/><path d="M423.0 88.7L432.7 79.0L442.4 88.7L432.7 98.4Z"/><path d="M442.8 108.4L452.5 98.7L462.2 108.4L452.5 118.1Z"/><path d="M462.5 128.0L472.2 118.3L481.9 128.0L472.2 137.7Z"/><path d="M482.3 147.7L492.0 138.0L501.7 147.7L492.0 157.4Z"/><path d="M502.0 167.4L511.7 157.7L521.4 167.4L511.7 177.1Z"/><path d="M521.8 187.0L531.5 177.3L541.2 187.0L531.5 196.7Z"/><path d="M541.5 206.7L551.2 197.0L560.9 206.7L551.2 216.4Z"/></g>
</g>
<text transform="translate(479,225.9) rotate(-90) scale(1.12,1)" font-size="9.9" fill="#5c0000" stroke="#5c0000" stroke-width="0.25">antenna</text>
<rect x="292" y="30" width="4.3" height="213" fill="url(#cb)"/>
<text transform="translate(298.6,245.8) scale(1.09,1)" font-size="10.4" fill="#000" text-anchor="start"  stroke="#000" stroke-width="0.12">0</text>
<text transform="translate(298.6,203.3) scale(1.09,1)" font-size="10.4" fill="#000" text-anchor="start"  stroke="#000" stroke-width="0.12">0.2</text>
<text transform="translate(298.6,160.8) scale(1.09,1)" font-size="10.4" fill="#000" text-anchor="start"  stroke="#000" stroke-width="0.12">0.4</text>
<text transform="translate(298.6,118.3) scale(1.09,1)" font-size="10.4" fill="#000" text-anchor="start"  stroke="#000" stroke-width="0.12">0.6</text>
<text transform="translate(298.6,75.8) scale(1.09,1)" font-size="10.4" fill="#000" text-anchor="start"  stroke="#000" stroke-width="0.12">0.8</text>
<text transform="translate(298.6,33.3) scale(1.09,1)" font-size="10.4" fill="#000" text-anchor="start"  stroke="#000" stroke-width="0.12">1.0</text>
<rect x="583" y="30" width="4.3" height="213" fill="url(#cb)"/>
<text transform="translate(589.6,245.8) scale(1.09,1)" font-size="10.4" fill="#000" text-anchor="start"  stroke="#000" stroke-width="0.12">0</text>
<text transform="translate(589.6,203.3) scale(1.09,1)" font-size="10.4" fill="#000" text-anchor="start"  stroke="#000" stroke-width="0.12">0.2</text>
<text transform="translate(589.6,160.8) scale(1.09,1)" font-size="10.4" fill="#000" text-anchor="start"  stroke="#000" stroke-width="0.12">0.4</text>
<text transform="translate(589.6,118.3) scale(1.09,1)" font-size="10.4" fill="#000" text-anchor="start"  stroke="#000" stroke-width="0.12">0.6</text>
<text transform="translate(589.6,75.8) scale(1.09,1)" font-size="10.4" fill="#000" text-anchor="start"  stroke="#000" stroke-width="0.12">0.8</text>
<text transform="translate(589.6,33.3) scale(1.09,1)" font-size="10.4" fill="#000" text-anchor="start"  stroke="#000" stroke-width="0.12">1.0</text>
<text transform="translate(90.3,254.3) scale(1.09,1)" font-size="10.4" fill="#000" text-anchor="middle"  stroke="#000" stroke-width="0.12">0.0</text>
<text transform="translate(75.3,235.8) scale(1.09,1)" font-size="10.4" fill="#000" text-anchor="end"  stroke="#000" stroke-width="0.12">0.0</text>
<text transform="translate(118.4,254.3) scale(1.09,1)" font-size="10.4" fill="#000" text-anchor="middle"  stroke="#000" stroke-width="0.12">0.1</text>
<text transform="translate(75.3,207.8) scale(1.09,1)" font-size="10.4" fill="#000" text-anchor="end"  stroke="#000" stroke-width="0.12">0.1</text>
<text transform="translate(146.5,254.3) scale(1.09,1)" font-size="10.4" fill="#000" text-anchor="middle"  stroke="#000" stroke-width="0.12">0.2</text>
<text transform="translate(75.3,179.8) scale(1.09,1)" font-size="10.4" fill="#000" text-anchor="end"  stroke="#000" stroke-width="0.12">0.2</text>
<text transform="translate(174.6,254.3) scale(1.09,1)" font-size="10.4" fill="#000" text-anchor="middle"  stroke="#000" stroke-width="0.12">0.3</text>
<text transform="translate(75.3,151.8) scale(1.09,1)" font-size="10.4" fill="#000" text-anchor="end"  stroke="#000" stroke-width="0.12">0.3</text>
<text transform="translate(202.7,254.3) scale(1.09,1)" font-size="10.4" fill="#000" text-anchor="middle"  stroke="#000" stroke-width="0.12">0.4</text>
<text transform="translate(75.3,123.8) scale(1.09,1)" font-size="10.4" fill="#000" text-anchor="end"  stroke="#000" stroke-width="0.12">0.4</text>
<text transform="translate(230.8,254.3) scale(1.09,1)" font-size="10.4" fill="#000" text-anchor="middle"  stroke="#000" stroke-width="0.12">0.5</text>
<text transform="translate(75.3,95.8) scale(1.09,1)" font-size="10.4" fill="#000" text-anchor="end"  stroke="#000" stroke-width="0.12">0.5</text>
<text transform="translate(258.9,254.3) scale(1.09,1)" font-size="10.4" fill="#000" text-anchor="middle"  stroke="#000" stroke-width="0.12">0.6</text>
<text transform="translate(75.3,67.8) scale(1.09,1)" font-size="10.4" fill="#000" text-anchor="end"  stroke="#000" stroke-width="0.12">0.6</text>
<text transform="translate(381.3,254.3) scale(1.09,1)" font-size="10.4" fill="#000" text-anchor="middle"  stroke="#000" stroke-width="0.12">0.0</text>
<text transform="translate(363.1,232.8) scale(1.09,1)" font-size="10.4" fill="#000" text-anchor="end"  stroke="#000" stroke-width="0.12">0.0</text>
<text transform="translate(409.4,254.3) scale(1.09,1)" font-size="10.4" fill="#000" text-anchor="middle"  stroke="#000" stroke-width="0.12">0.1</text>
<text transform="translate(363.1,204.8) scale(1.09,1)" font-size="10.4" fill="#000" text-anchor="end"  stroke="#000" stroke-width="0.12">0.1</text>
<text transform="translate(437.5,254.3) scale(1.09,1)" font-size="10.4" fill="#000" text-anchor="middle"  stroke="#000" stroke-width="0.12">0.2</text>
<text transform="translate(363.1,176.8) scale(1.09,1)" font-size="10.4" fill="#000" text-anchor="end"  stroke="#000" stroke-width="0.12">0.2</text>
<text transform="translate(465.6,254.3) scale(1.09,1)" font-size="10.4" fill="#000" text-anchor="middle"  stroke="#000" stroke-width="0.12">0.3</text>
<text transform="translate(363.1,148.8) scale(1.09,1)" font-size="10.4" fill="#000" text-anchor="end"  stroke="#000" stroke-width="0.12">0.3</text>
<text transform="translate(493.7,254.3) scale(1.09,1)" font-size="10.4" fill="#000" text-anchor="middle"  stroke="#000" stroke-width="0.12">0.4</text>
<text transform="translate(363.1,120.8) scale(1.09,1)" font-size="10.4" fill="#000" text-anchor="end"  stroke="#000" stroke-width="0.12">0.4</text>
<text transform="translate(521.8,254.3) scale(1.09,1)" font-size="10.4" fill="#000" text-anchor="middle"  stroke="#000" stroke-width="0.12">0.5</text>
<text transform="translate(363.1,92.8) scale(1.09,1)" font-size="10.4" fill="#000" text-anchor="end"  stroke="#000" stroke-width="0.12">0.5</text>
<text transform="translate(549.9,254.3) scale(1.09,1)" font-size="10.4" fill="#000" text-anchor="middle"  stroke="#000" stroke-width="0.12">0.6</text>
<text transform="translate(363.1,64.8) scale(1.09,1)" font-size="10.4" fill="#000" text-anchor="end"  stroke="#000" stroke-width="0.12">0.6</text>
<text transform="translate(185.1,266.1) scale(1.0,1)" font-size="11.6" fill="#111" text-anchor="middle" font-weight="bold">x [mm]</text>
<text transform="translate(477.5,266.1) scale(1.0,1)" font-size="11.6" fill="#111" text-anchor="middle" font-weight="bold">x[mm]</text>
<text transform="translate(46.6,135.5) rotate(-90) scale(1.0,1)" font-size="11.4" fill="#111" text-anchor="middle" font-weight="bold">y [mm]</text>
<text transform="translate(343.6,131.0) rotate(-90) scale(1.0,1)" font-size="11.4" fill="#111" text-anchor="middle" font-weight="bold">y [mm]</text>
<text transform="translate(27.6,25.2) scale(1.04,1)" font-size="16" fill="#000" text-anchor="start"  stroke="#000" stroke-width="0.12">(a)</text>
<text transform="translate(332.8,25.4) scale(1.04,1)" font-size="16" fill="#000" text-anchor="start"  stroke="#000" stroke-width="0.12">(b)</text>
<text transform="translate(25.2,293.5) scale(1.04,1)" font-size="16" fill="#000" text-anchor="start"  stroke="#000" stroke-width="0.12">(c)</text>
<text transform="translate(333.6,299.4) scale(1.04,1)" font-size="16" fill="#000" text-anchor="start"  stroke="#000" stroke-width="0.12">(d)</text>
<text x="138" y="16" font-size="11.7" fill="#ea1c1c" stroke="#ea1c1c" stroke-width="0.25">strong beam</text>
<path d="M165.6 21L146 48" stroke="#ea1c1c" stroke-width="2.2" fill="none"/>
<path d="M138 58L140.6 40.8L147.3 47L157 50.2Z" fill="#ea1c1c"/>
<text x="508.8" y="274" font-size="11.7" fill="#ea1c1c" stroke="#ea1c1c" stroke-width="0.25">strong beam</text>
<path d="M536.5 262L531.3 225" stroke="#ea1c1c" stroke-width="2.2" fill="none"/>
<path d="M529 211L540.6 226.3L531.3 224.6L520.8 230Z" fill="#ea1c1c"/>
<text x="417" y="8.6" font-size="11.6" fill="#cf8bc9">line of antidots</text>
<path d="M445.6 17L457 99" stroke="#cf8bc9" stroke-width="0.9" fill="none"/>
<path d="M457.2 101L453 94.5L457 96L460 93.5Z" fill="#cf8bc9"/>
<text x="231" y="273.4" font-size="11.6" fill="#cf8bc9">line of antidots</text>
<path d="M251.1 261.3L214 174" stroke="#cf8bc9" stroke-width="0.9" fill="none"/>
<path d="M213.2 172.3L219 177.5L215.2 177L213.5 180.3Z" fill="#cf8bc9"/>
<text transform="translate(2.6,142.6) scale(1.12,1)" font-size="20" fill="#1c7fe6" text-anchor="start"  stroke="#1c7fe6" stroke-width="0.12">-H</text>
<path d="M31.5 82V180" stroke="#1c7fe6" stroke-width="2.8"/>
<path d="M31.5 193L20.5 174.5L31.5 180L42.5 174.5Z" fill="#1c7fe6"/>
<text transform="translate(633.8,143.4) scale(1.06,1)" font-size="21.2" fill="#136c3a" text-anchor="start"  stroke="#136c3a" stroke-width="0.12">+H</text>
<path d="M626.1 193V96" stroke="#136c3a" stroke-width="3.2"/>
<path d="M626.1 83L615 102.5L626.1 97.4L637.4 102.5Z" fill="#136c3a"/>
<rect x="38.7" y="303.5" width="295.3" height="181.60000000000002" fill="none" stroke="#222" stroke-width="1"/><path d="M35.7 479.8h6M331 479.8h6" stroke="#222" stroke-width="0.9"/><text transform="translate(32.4,483.6) scale(1.08,1)" font-size="10.4" fill="#000" text-anchor="end"  stroke="#000" stroke-width="0.12">0.0</text><path d="M37.400000000000006 471.2h2.6M332.7 471.2h2.6" stroke="#222" stroke-width="0.9"/><path d="M37.400000000000006 462.7h2.6M332.7 462.7h2.6" stroke="#222" stroke-width="0.9"/><path d="M37.400000000000006 454.1h2.6M332.7 454.1h2.6" stroke="#222" stroke-width="0.9"/><path d="M35.7 445.5h6M331 445.5h6" stroke="#222" stroke-width="0.9"/><text transform="translate(32.4,449.3) scale(1.08,1)" font-size="10.4" fill="#000" text-anchor="end"  stroke="#000" stroke-width="0.12">0.2</text><path d="M37.400000000000006 437.0h2.6M332.7 437.0h2.6" stroke="#222" stroke-width="0.9"/><path d="M37.400000000000006 428.4h2.6M332.7 428.4h2.6" stroke="#222" stroke-width="0.9"/><path d="M37.400000000000006 419.8h2.6M332.7 419.8h2.6" stroke="#222" stroke-width="0.9"/><path d="M35.7 411.3h6M331 411.3h6" stroke="#222" stroke-width="0.9"/><text transform="translate(32.4,415.1) scale(1.08,1)" font-size="10.4" fill="#000" text-anchor="end"  stroke="#000" stroke-width="0.12">0.4</text><path d="M37.400000000000006 402.7h2.6M332.7 402.7h2.6" stroke="#222" stroke-width="0.9"/><path d="M37.400000000000006 394.1h2.6M332.7 394.1h2.6" stroke="#222" stroke-width="0.9"/><path d="M37.400000000000006 385.6h2.6M332.7 385.6h2.6" stroke="#222" stroke-width="0.9"/><path d="M35.7 377.0h6M331 377.0h6" stroke="#222" stroke-width="0.9"/><text transform="translate(32.4,380.8) scale(1.08,1)" font-size="10.4" fill="#000" text-anchor="end"  stroke="#000" stroke-width="0.12">0.6</text><path d="M37.400000000000006 368.5h2.6M332.7 368.5h2.6" stroke="#222" stroke-width="0.9"/><path d="M37.400000000000006 359.9h2.6M332.7 359.9h2.6" stroke="#222" stroke-width="0.9"/><path d="M37.400000000000006 351.3h2.6M332.7 351.3h2.6" stroke="#222" stroke-width="0.9"/><path d="M35.7 342.8h6M331 342.8h6" stroke="#222" stroke-width="0.9"/><text transform="translate(32.4,346.6) scale(1.08,1)" font-size="10.4" fill="#000" text-anchor="end"  stroke="#000" stroke-width="0.12">0.8</text><path d="M37.400000000000006 334.2h2.6M332.7 334.2h2.6" stroke="#222" stroke-width="0.9"/><path d="M37.400000000000006 325.6h2.6M332.7 325.6h2.6" stroke="#222" stroke-width="0.9"/><path d="M37.400000000000006 317.1h2.6M332.7 317.1h2.6" stroke="#222" stroke-width="0.9"/><path d="M35.7 308.5h6M331 308.5h6" stroke="#222" stroke-width="0.9"/><text transform="translate(32.4,312.3) scale(1.08,1)" font-size="10.4" fill="#000" text-anchor="end"  stroke="#000" stroke-width="0.12">1.0</text><path d="M42.8 302.2v2.6" stroke="#222" stroke-width="0.9"/><path d="M47.4 482.1v6" stroke="#222" stroke-width="0.9"/><path d="M53.3 300.5v6" stroke="#222" stroke-width="0.9"/><path d="M57.9 483.8v2.6" stroke="#222" stroke-width="0.9"/><path d="M63.8 302.2v2.6" stroke="#222" stroke-width="0.9"/><path d="M68.3 483.8v2.6" stroke="#222" stroke-width="0.9"/><path d="M74.2 302.2v2.6" stroke="#222" stroke-width="0.9"/><path d="M78.8 483.8v2.6" stroke="#222" stroke-width="0.9"/><path d="M84.7 302.2v2.6" stroke="#222" stroke-width="0.9"/><path d="M89.3 483.8v2.6" stroke="#222" stroke-width="0.9"/><path d="M95.2 302.2v2.6" stroke="#222" stroke-width="0.9"/><path d="M99.8 482.1v6" stroke="#222" stroke-width="0.9"/><path d="M105.7 300.5v6" stroke="#222" stroke-width="0.9"/><path d="M110.2 483.8v2.6" stroke="#222" stroke-width="0.9"/><path d="M116.1 302.2v2.6" stroke="#222" stroke-width="0.9"/><path d="M120.7 483.8v2.6" stroke="#222" stroke-width="0.9"/><path d="M126.6 302.2v2.6" stroke="#222" stroke-width="0.9"/><path d="M131.2 483.8v2.6" stroke="#222" stroke-width="0.9"/><path d="M137.1 302.2v2.6" stroke="#222" stroke-width="0.9"/><path d="M141.6 483.8v2.6" stroke="#222" stroke-width="0.9"/><path d="M147.5 302.2v2.6" stroke="#222" stroke-width="0.9"/><path d="M152.1 482.1v6" stroke="#222" stroke-width="0.9"/><path d="M158.0 300.5v6" stroke="#222" stroke-width="0.9"/><path d="M162.6 483.8v2.6" stroke="#222" stroke-width="0.9"/><path d="M168.5 302.2v2.6" stroke="#222" stroke-width="0.9"/><path d="M173.0 483.8v2.6" stroke="#222" stroke-width="0.9"/><path d="M178.9 302.2v2.6" stroke="#222" stroke-width="0.9"/><path d="M183.5 483.8v2.6" stroke="#222" stroke-width="0.9"/><path d="M189.4 302.2v2.6" stroke="#222" stroke-width="0.9"/><path d="M194.0 483.8v2.6" stroke="#222" stroke-width="0.9"/><path d="M199.9 302.2v2.6" stroke="#222" stroke-width="0.9"/><path d="M204.5 482.1v6" stroke="#222" stroke-width="0.9"/><path d="M210.4 300.5v6" stroke="#222" stroke-width="0.9"/><path d="M214.9 483.8v2.6" stroke="#222" stroke-width="0.9"/><path d="M220.8 302.2v2.6" stroke="#222" stroke-width="0.9"/><path d="M225.4 483.8v2.6" stroke="#222" stroke-width="0.9"/><path d="M231.3 302.2v2.6" stroke="#222" stroke-width="0.9"/><path d="M235.9 483.8v2.6" stroke="#222" stroke-width="0.9"/><path d="M241.8 302.2v2.6" stroke="#222" stroke-width="0.9"/><path d="M246.3 483.8v2.6" stroke="#222" stroke-width="0.9"/><path d="M252.2 302.2v2.6" stroke="#222" stroke-width="0.9"/><path d="M256.8 482.1v6" stroke="#222" stroke-width="0.9"/><path d="M262.7 300.5v6" stroke="#222" stroke-width="0.9"/><path d="M267.3 483.8v2.6" stroke="#222" stroke-width="0.9"/><path d="M273.2 302.2v2.6" stroke="#222" stroke-width="0.9"/><path d="M277.7 483.8v2.6" stroke="#222" stroke-width="0.9"/><path d="M283.6 302.2v2.6" stroke="#222" stroke-width="0.9"/><path d="M288.2 483.8v2.6" stroke="#222" stroke-width="0.9"/><path d="M294.1 302.2v2.6" stroke="#222" stroke-width="0.9"/><path d="M298.7 483.8v2.6" stroke="#222" stroke-width="0.9"/><path d="M304.6 302.2v2.6" stroke="#222" stroke-width="0.9"/><path d="M309.1 482.1v6" stroke="#222" stroke-width="0.9"/><path d="M315.1 300.5v6" stroke="#222" stroke-width="0.9"/><path d="M319.6 483.8v2.6" stroke="#222" stroke-width="0.9"/><path d="M325.5 302.2v2.6" stroke="#222" stroke-width="0.9"/><path d="M330.1 483.8v2.6" stroke="#222" stroke-width="0.9"/><text transform="translate(48.4,502.0) scale(1.1,1)" font-size="10.4" fill="#000" text-anchor="middle"  stroke="#000" stroke-width="0.12">-0.04</text><text transform="translate(100.8,502.0) scale(1.1,1)" font-size="10.4" fill="#000" text-anchor="middle"  stroke="#000" stroke-width="0.12">-0.02</text><text transform="translate(153.1,502.0) scale(1.1,1)" font-size="10.4" fill="#000" text-anchor="middle"  stroke="#000" stroke-width="0.12">0.00</text><text transform="translate(205.5,502.0) scale(1.1,1)" font-size="10.4" fill="#000" text-anchor="middle"  stroke="#000" stroke-width="0.12">0.02</text><text transform="translate(257.8,502.0) scale(1.1,1)" font-size="10.4" fill="#000" text-anchor="middle"  stroke="#000" stroke-width="0.12">0.04</text><text transform="translate(310.1,502.0) scale(1.1,1)" font-size="10.4" fill="#000" text-anchor="middle"  stroke="#000" stroke-width="0.12">0.06</text><text transform="translate(184.9,518.9) scale(1.118,1)" font-size="10.5" fill="#000" text-anchor="middle"  stroke="#000" stroke-width="0.12">x’ distance from the edge of the antidot line [mm]</text><polyline points="47.9,477.1 75.6,467.0 103.3,472.9 131.1,478.9 158.8,477.7 186.5,308.5 214.2,434.4 241.9,464.4 269.7,463.5 297.4,463.5 325.1,463.0" fill="none" stroke="#1c7fe6" stroke-width="1.6" stroke-linejoin="round"/><circle cx="47.9" cy="477.1" r="3.0" fill="#fff" stroke="#1c7fe6" stroke-width="1.25"/><circle cx="75.6" cy="467.0" r="3.0" fill="#fff" stroke="#1c7fe6" stroke-width="1.25"/><circle cx="103.3" cy="472.9" r="3.0" fill="#fff" stroke="#1c7fe6" stroke-width="1.25"/><circle cx="131.1" cy="478.9" r="3.0" fill="#fff" stroke="#1c7fe6" stroke-width="1.25"/><circle cx="158.8" cy="477.7" r="3.0" fill="#fff" stroke="#1c7fe6" stroke-width="1.25"/><circle cx="186.5" cy="308.5" r="3.0" fill="#fff" stroke="#1c7fe6" stroke-width="1.25"/><circle cx="214.2" cy="434.4" r="3.0" fill="#fff" stroke="#1c7fe6" stroke-width="1.25"/><circle cx="241.9" cy="464.4" r="3.0" fill="#fff" stroke="#1c7fe6" stroke-width="1.25"/><circle cx="269.7" cy="463.5" r="3.0" fill="#fff" stroke="#1c7fe6" stroke-width="1.25"/><circle cx="297.4" cy="463.5" r="3.0" fill="#fff" stroke="#1c7fe6" stroke-width="1.25"/><circle cx="325.1" cy="463.0" r="3.0" fill="#fff" stroke="#1c7fe6" stroke-width="1.25"/><polyline points="47.9,478.1 75.6,478.4 103.3,476.4 131.1,475.5 158.8,473.5 186.5,469.2 214.2,476.4 241.9,479.3 269.7,479.3 297.4,479.3 325.1,479.3" fill="none" stroke="#136c3a" stroke-width="1.3" stroke-linejoin="round"/><path d="M47.9 474.9L50.8 480.1L45.0 480.1Z" fill="#fff" stroke="#136c3a" stroke-width="1.15"/><path d="M75.6 475.2L78.5 480.4L72.7 480.4Z" fill="#fff" stroke="#136c3a" stroke-width="1.15"/><path d="M103.3 473.2L106.2 478.4L100.4 478.4Z" fill="#fff" stroke="#136c3a" stroke-width="1.15"/><path d="M131.1 472.3L134.0 477.5L128.2 477.5Z" fill="#fff" stroke="#136c3a" stroke-width="1.15"/><path d="M158.8 470.3L161.7 475.5L155.9 475.5Z" fill="#fff" stroke="#136c3a" stroke-width="1.15"/><path d="M186.5 466.0L189.4 471.2L183.6 471.2Z" fill="#fff" stroke="#136c3a" stroke-width="1.15"/><path d="M214.2 473.2L217.1 478.4L211.3 478.4Z" fill="#fff" stroke="#136c3a" stroke-width="1.15"/><path d="M241.9 476.1L244.8 481.3L239.0 481.3Z" fill="#fff" stroke="#136c3a" stroke-width="1.15"/><path d="M269.7 476.1L272.6 481.3L266.8 481.3Z" fill="#fff" stroke="#136c3a" stroke-width="1.15"/><path d="M297.4 476.1L300.3 481.3L294.5 481.3Z" fill="#fff" stroke="#136c3a" stroke-width="1.15"/><path d="M325.1 476.1L328.0 481.3L322.2 481.3Z" fill="#fff" stroke="#136c3a" stroke-width="1.15"/>
<rect x="377.4" y="303.5" width="294.70000000000005" height="181.60000000000002" fill="none" stroke="#222" stroke-width="1"/><path d="M374.4 479.8h6M669.1 479.8h6" stroke="#222" stroke-width="0.9"/><text transform="translate(371.1,483.6) scale(1.08,1)" font-size="10.4" fill="#000" text-anchor="end"  stroke="#000" stroke-width="0.12">0.0</text><path d="M376.09999999999997 471.2h2.6M670.8000000000001 471.2h2.6" stroke="#222" stroke-width="0.9"/><path d="M376.09999999999997 462.7h2.6M670.8000000000001 462.7h2.6" stroke="#222" stroke-width="0.9"/><path d="M376.09999999999997 454.1h2.6M670.8000000000001 454.1h2.6" stroke="#222" stroke-width="0.9"/><path d="M374.4 445.5h6M669.1 445.5h6" stroke="#222" stroke-width="0.9"/><text transform="translate(371.1,449.3) scale(1.08,1)" font-size="10.4" fill="#000" text-anchor="end"  stroke="#000" stroke-width="0.12">0.2</text><path d="M376.09999999999997 437.0h2.6M670.8000000000001 437.0h2.6" stroke="#222" stroke-width="0.9"/><path d="M376.09999999999997 428.4h2.6M670.8000000000001 428.4h2.6" stroke="#222" stroke-width="0.9"/><path d="M376.09999999999997 419.8h2.6M670.8000000000001 419.8h2.6" stroke="#222" stroke-width="0.9"/><path d="M374.4 411.3h6M669.1 411.3h6" stroke="#222" stroke-width="0.9"/><text transform="translate(371.1,415.1) scale(1.08,1)" font-size="10.4" fill="#000" text-anchor="end"  stroke="#000" stroke-width="0.12">0.4</text><path d="M376.09999999999997 402.7h2.6M670.8000000000001 402.7h2.6" stroke="#222" stroke-width="0.9"/><path d="M376.09999999999997 394.1h2.6M670.8000000000001 394.1h2.6" stroke="#222" stroke-width="0.9"/><path d="M376.09999999999997 385.6h2.6M670.8000000000001 385.6h2.6" stroke="#222" stroke-width="0.9"/><path d="M374.4 377.0h6M669.1 377.0h6" stroke="#222" stroke-width="0.9"/><text transform="translate(371.1,380.8) scale(1.08,1)" font-size="10.4" fill="#000" text-anchor="end"  stroke="#000" stroke-width="0.12">0.6</text><path d="M376.09999999999997 368.5h2.6M670.8000000000001 368.5h2.6" stroke="#222" stroke-width="0.9"/><path d="M376.09999999999997 359.9h2.6M670.8000000000001 359.9h2.6" stroke="#222" stroke-width="0.9"/><path d="M376.09999999999997 351.3h2.6M670.8000000000001 351.3h2.6" stroke="#222" stroke-width="0.9"/><path d="M374.4 342.8h6M669.1 342.8h6" stroke="#222" stroke-width="0.9"/><text transform="translate(371.1,346.6) scale(1.08,1)" font-size="10.4" fill="#000" text-anchor="end"  stroke="#000" stroke-width="0.12">0.8</text><path d="M376.09999999999997 334.2h2.6M670.8000000000001 334.2h2.6" stroke="#222" stroke-width="0.9"/><path d="M376.09999999999997 325.6h2.6M670.8000000000001 325.6h2.6" stroke="#222" stroke-width="0.9"/><path d="M376.09999999999997 317.1h2.6M670.8000000000001 317.1h2.6" stroke="#222" stroke-width="0.9"/><path d="M374.4 308.5h6M669.1 308.5h6" stroke="#222" stroke-width="0.9"/><text transform="translate(371.1,312.3) scale(1.08,1)" font-size="10.4" fill="#000" text-anchor="end"  stroke="#000" stroke-width="0.12">1.0</text><path d="M385.4 302.2v2.6" stroke="#222" stroke-width="0.9"/><path d="M385.8 482.1v6" stroke="#222" stroke-width="0.9"/><path d="M395.9 300.5v6" stroke="#222" stroke-width="0.9"/><path d="M396.3 483.8v2.6" stroke="#222" stroke-width="0.9"/><path d="M406.4 302.2v2.6" stroke="#222" stroke-width="0.9"/><path d="M406.7 483.8v2.6" stroke="#222" stroke-width="0.9"/><path d="M416.8 302.2v2.6" stroke="#222" stroke-width="0.9"/><path d="M417.2 483.8v2.6" stroke="#222" stroke-width="0.9"/><path d="M427.3 302.2v2.6" stroke="#222" stroke-width="0.9"/><path d="M427.7 483.8v2.6" stroke="#222" stroke-width="0.9"/><path d="M437.8 302.2v2.6" stroke="#222" stroke-width="0.9"/><path d="M438.2 482.1v6" stroke="#222" stroke-width="0.9"/><path d="M448.2 300.5v6" stroke="#222" stroke-width="0.9"/><path d="M448.6 483.8v2.6" stroke="#222" stroke-width="0.9"/><path d="M458.7 302.2v2.6" stroke="#222" stroke-width="0.9"/><path d="M459.1 483.8v2.6" stroke="#222" stroke-width="0.9"/><path d="M469.2 302.2v2.6" stroke="#222" stroke-width="0.9"/><path d="M469.6 483.8v2.6" stroke="#222" stroke-width="0.9"/><path d="M479.7 302.2v2.6" stroke="#222" stroke-width="0.9"/><path d="M480.0 483.8v2.6" stroke="#222" stroke-width="0.9"/><path d="M490.1 302.2v2.6" stroke="#222" stroke-width="0.9"/><path d="M490.5 482.1v6" stroke="#222" stroke-width="0.9"/><path d="M500.6 300.5v6" stroke="#222" stroke-width="0.9"/><path d="M501.0 483.8v2.6" stroke="#222" stroke-width="0.9"/><path d="M511.1 302.2v2.6" stroke="#222" stroke-width="0.9"/><path d="M511.4 483.8v2.6" stroke="#222" stroke-width="0.9"/><path d="M521.5 302.2v2.6" stroke="#222" stroke-width="0.9"/><path d="M521.9 483.8v2.6" stroke="#222" stroke-width="0.9"/><path d="M532.0 302.2v2.6" stroke="#222" stroke-width="0.9"/><path d="M532.4 483.8v2.6" stroke="#222" stroke-width="0.9"/><path d="M542.5 302.2v2.6" stroke="#222" stroke-width="0.9"/><path d="M542.9 482.1v6" stroke="#222" stroke-width="0.9"/><path d="M553.0 300.5v6" stroke="#222" stroke-width="0.9"/><path d="M553.3 483.8v2.6" stroke="#222" stroke-width="0.9"/><path d="M563.4 302.2v2.6" stroke="#222" stroke-width="0.9"/><path d="M563.8 483.8v2.6" stroke="#222" stroke-width="0.9"/><path d="M573.9 302.2v2.6" stroke="#222" stroke-width="0.9"/><path d="M574.3 483.8v2.6" stroke="#222" stroke-width="0.9"/><path d="M584.4 302.2v2.6" stroke="#222" stroke-width="0.9"/><path d="M584.7 483.8v2.6" stroke="#222" stroke-width="0.9"/><path d="M594.8 302.2v2.6" stroke="#222" stroke-width="0.9"/><path d="M595.2 482.1v6" stroke="#222" stroke-width="0.9"/><path d="M605.3 300.5v6" stroke="#222" stroke-width="0.9"/><path d="M605.7 483.8v2.6" stroke="#222" stroke-width="0.9"/><path d="M615.8 302.2v2.6" stroke="#222" stroke-width="0.9"/><path d="M616.1 483.8v2.6" stroke="#222" stroke-width="0.9"/><path d="M626.2 302.2v2.6" stroke="#222" stroke-width="0.9"/><path d="M626.6 483.8v2.6" stroke="#222" stroke-width="0.9"/><path d="M636.7 302.2v2.6" stroke="#222" stroke-width="0.9"/><path d="M637.1 483.8v2.6" stroke="#222" stroke-width="0.9"/><path d="M647.2 302.2v2.6" stroke="#222" stroke-width="0.9"/><path d="M647.5 482.1v6" stroke="#222" stroke-width="0.9"/><path d="M657.6 300.5v6" stroke="#222" stroke-width="0.9"/><path d="M658.0 483.8v2.6" stroke="#222" stroke-width="0.9"/><path d="M668.1 302.2v2.6" stroke="#222" stroke-width="0.9"/><path d="M668.5 483.8v2.6" stroke="#222" stroke-width="0.9"/><text transform="translate(391.8,502.0) scale(1.1,1)" font-size="10.4" fill="#000" text-anchor="middle"  stroke="#000" stroke-width="0.12">-0.06</text><text transform="translate(444.2,502.0) scale(1.1,1)" font-size="10.4" fill="#000" text-anchor="middle"  stroke="#000" stroke-width="0.12">-0.04</text><text transform="translate(496.5,502.0) scale(1.1,1)" font-size="10.4" fill="#000" text-anchor="middle"  stroke="#000" stroke-width="0.12">-0.02</text><text transform="translate(548.9,502.0) scale(1.1,1)" font-size="10.4" fill="#000" text-anchor="middle"  stroke="#000" stroke-width="0.12">0.00</text><text transform="translate(601.2,502.0) scale(1.1,1)" font-size="10.4" fill="#000" text-anchor="middle"  stroke="#000" stroke-width="0.12">0.02</text><text transform="translate(653.5,502.0) scale(1.1,1)" font-size="10.4" fill="#000" text-anchor="middle"  stroke="#000" stroke-width="0.12">0.04</text><text transform="translate(531.5,518.9) scale(1.118,1)" font-size="10.5" fill="#000" text-anchor="middle"  stroke="#000" stroke-width="0.12">x’ distance from the edge of the antidot line [mm]</text><polyline points="386.1,464.6 413.8,453.8 441.5,452.9 469.3,444.5 497.0,392.4 524.7,309.5 552.4,469.7 580.1,478.6 607.9,479.1 635.6,479.3 663.3,479.3" fill="none" stroke="#136c3a" stroke-width="1.3" stroke-linejoin="round"/><path d="M386.1 461.4L389.0 466.6L383.2 466.6Z" fill="#fff" stroke="#136c3a" stroke-width="1.15"/><path d="M413.8 450.6L416.7 455.8L410.9 455.8Z" fill="#fff" stroke="#136c3a" stroke-width="1.15"/><path d="M441.5 449.7L444.4 454.9L438.6 454.9Z" fill="#fff" stroke="#136c3a" stroke-width="1.15"/><path d="M469.3 441.3L472.2 446.5L466.4 446.5Z" fill="#fff" stroke="#136c3a" stroke-width="1.15"/><path d="M497.0 389.2L499.9 394.4L494.1 394.4Z" fill="#fff" stroke="#136c3a" stroke-width="1.15"/><path d="M524.7 306.3L527.6 311.5L521.8 311.5Z" fill="#fff" stroke="#136c3a" stroke-width="1.15"/><path d="M552.4 466.5L555.3 471.7L549.5 471.7Z" fill="#fff" stroke="#136c3a" stroke-width="1.15"/><path d="M580.1 475.4L583.0 480.6L577.2 480.6Z" fill="#fff" stroke="#136c3a" stroke-width="1.15"/><path d="M607.9 475.9L610.8 481.1L605.0 481.1Z" fill="#fff" stroke="#136c3a" stroke-width="1.15"/><path d="M635.6 476.1L638.5 481.3L632.7 481.3Z" fill="#fff" stroke="#136c3a" stroke-width="1.15"/><path d="M663.3 476.1L666.2 481.3L660.4 481.3Z" fill="#fff" stroke="#136c3a" stroke-width="1.15"/><polyline points="386.1,474.1 413.8,472.1 441.5,474.7 469.3,476.5 497.0,449.7 524.7,467.8 552.4,478.6 580.1,478.1 607.9,477.7 635.6,478.3 663.3,478.3" fill="none" stroke="#1c7fe6" stroke-width="1.6" stroke-linejoin="round"/><circle cx="386.1" cy="474.1" r="3.0" fill="#fff" stroke="#1c7fe6" stroke-width="1.25"/><circle cx="413.8" cy="472.1" r="3.0" fill="#fff" stroke="#1c7fe6" stroke-width="1.25"/><circle cx="441.5" cy="474.7" r="3.0" fill="#fff" stroke="#1c7fe6" stroke-width="1.25"/><circle cx="469.3" cy="476.5" r="3.0" fill="#fff" stroke="#1c7fe6" stroke-width="1.25"/><circle cx="497.0" cy="449.7" r="3.0" fill="#fff" stroke="#1c7fe6" stroke-width="1.25"/><circle cx="524.7" cy="467.8" r="3.0" fill="#fff" stroke="#1c7fe6" stroke-width="1.25"/><circle cx="552.4" cy="478.6" r="3.0" fill="#fff" stroke="#1c7fe6" stroke-width="1.25"/><circle cx="580.1" cy="478.1" r="3.0" fill="#fff" stroke="#1c7fe6" stroke-width="1.25"/><circle cx="607.9" cy="477.7" r="3.0" fill="#fff" stroke="#1c7fe6" stroke-width="1.25"/><circle cx="635.6" cy="478.3" r="3.0" fill="#fff" stroke="#1c7fe6" stroke-width="1.25"/><circle cx="663.3" cy="478.3" r="3.0" fill="#fff" stroke="#1c7fe6" stroke-width="1.25"/>
<text transform="translate(9.6,378.5) rotate(-90) scale(1.125,1)" font-size="10.4" fill="#000" text-anchor="middle"  stroke="#000" stroke-width="0.12">Normalized BLS intensity</text>
<text transform="translate(350.6,378.5) rotate(-90) scale(1.125,1)" font-size="10.4" fill="#000" text-anchor="middle"  stroke="#000" stroke-width="0.12">Normalized BLS intensity</text>
<text transform="translate(206.5,335.9) scale(1.13,1)" font-size="13.2" fill="#1c7fe6" text-anchor="start"  stroke="#1c7fe6" stroke-width="0.12">-H</text>
<path d="M233.4 317.5V336" stroke="#1c7fe6" stroke-width="1.7"/><path d="M233.4 343L228.9 332.8L233.4 335.4L237.9 332.8Z" fill="#1c7fe6"/>
<text transform="translate(193.0,458.4) scale(1.1,1)" font-size="13.2" fill="#136c3a" text-anchor="start"  stroke="#136c3a" stroke-width="0.12">+H</text>
<path d="M186.3 458.5V439.3" stroke="#136c3a" stroke-width="1.7"/><path d="M186.3 432.3L181.8 442.5L186.3 439.90000000000003L190.8 442.5Z" fill="#136c3a"/>
<text transform="translate(468.8,335.9) scale(1.1,1)" font-size="13.2" fill="#136c3a" text-anchor="start"  stroke="#136c3a" stroke-width="0.12">+H</text>
<path d="M500.3 342.6V324.1" stroke="#136c3a" stroke-width="1.7"/><path d="M500.3 317.1L495.8 327.3L500.3 324.70000000000005L504.8 327.3Z" fill="#136c3a"/>
<text transform="translate(511.0,449.6) scale(1.13,1)" font-size="13.2" fill="#1c7fe6" text-anchor="start"  stroke="#1c7fe6" stroke-width="0.12">-H</text>
<path d="M536.1 431.5V449.8" stroke="#1c7fe6" stroke-width="1.7"/><path d="M536.1 456.8L531.6 446.6L536.1 449.2L540.6 446.6Z" fill="#1c7fe6"/>
<rect x="61.6" y="320.4" width="83.2" height="79.4" fill="#a0960f"/><rect x="74.5" y="332.2" width="4.2" height="4.2" rx="0.6" fill="#bcd24a" transform="rotate(45 76.6 334.3)"/><rect x="80.0" y="337.8" width="4.2" height="4.2" rx="0.6" fill="#bcd24a" transform="rotate(45 82.1 339.9)"/><rect x="85.6" y="343.4" width="4.2" height="4.2" rx="0.6" fill="#bcd24a" transform="rotate(45 87.7 345.5)"/><rect x="91.2" y="349.0" width="4.2" height="4.2" rx="0.6" fill="#bcd24a" transform="rotate(45 93.2 351.1)"/><rect x="96.7" y="354.6" width="4.2" height="4.2" rx="0.6" fill="#bcd24a" transform="rotate(45 98.8 356.7)"/><rect x="102.2" y="360.2" width="4.2" height="4.2" rx="0.6" fill="#bcd24a" transform="rotate(45 104.3 362.4)"/><rect x="107.8" y="365.9" width="4.2" height="4.2" rx="0.6" fill="#bcd24a" transform="rotate(45 109.9 368.0)"/><rect x="113.3" y="371.5" width="4.2" height="4.2" rx="0.6" fill="#bcd24a" transform="rotate(45 115.4 373.6)"/><rect x="118.9" y="377.1" width="4.2" height="4.2" rx="0.6" fill="#bcd24a" transform="rotate(45 121.0 379.2)"/><rect x="124.4" y="382.7" width="4.2" height="4.2" rx="0.6" fill="#bcd24a" transform="rotate(45 126.5 384.8)"/><rect x="102.7" y="320.4" width="3.5" height="79.4" fill="#ea2a1c"/><path d="M79.1 354.3L92.5 341.1" stroke="#111" stroke-width="1.2" stroke-dasharray="2.3 1.3"/><path d="M95.5 338.3L89.3 340.5L91.5 342.1L93.1 344.3Z" fill="#111"/><text x="89.5" y="334.9" font-size="6" font-weight="bold" fill="#111">x’</text>
<rect x="562.2" y="320.4" width="83.2" height="79.4" fill="#a0960f"/><rect x="575.3" y="332.2" width="4.2" height="4.2" rx="0.6" fill="#bcd24a" transform="rotate(45 577.4 334.3)"/><rect x="580.8" y="337.8" width="4.2" height="4.2" rx="0.6" fill="#bcd24a" transform="rotate(45 582.9 339.9)"/><rect x="586.4" y="343.4" width="4.2" height="4.2" rx="0.6" fill="#bcd24a" transform="rotate(45 588.5 345.5)"/><rect x="591.9" y="349.0" width="4.2" height="4.2" rx="0.6" fill="#bcd24a" transform="rotate(45 594.0 351.1)"/><rect x="597.5" y="354.6" width="4.2" height="4.2" rx="0.6" fill="#bcd24a" transform="rotate(45 599.6 356.7)"/><rect x="603.0" y="360.2" width="4.2" height="4.2" rx="0.6" fill="#bcd24a" transform="rotate(45 605.1 362.4)"/><rect x="608.6" y="365.9" width="4.2" height="4.2" rx="0.6" fill="#bcd24a" transform="rotate(45 610.7 368.0)"/><rect x="614.1" y="371.5" width="4.2" height="4.2" rx="0.6" fill="#bcd24a" transform="rotate(45 616.2 373.6)"/><rect x="619.7" y="377.1" width="4.2" height="4.2" rx="0.6" fill="#bcd24a" transform="rotate(45 621.8 379.2)"/><rect x="625.2" y="382.7" width="4.2" height="4.2" rx="0.6" fill="#bcd24a" transform="rotate(45 627.4 384.8)"/><rect x="603.6" y="320.4" width="3.5" height="79.4" fill="#ea2a1c"/><path d="M612.4 388L626.7 375.40000000000003" stroke="#111" stroke-width="1.2" stroke-dasharray="2.3 1.3"/><path d="M629.7 372.6L623.5 374.8L625.7 376.4L627.3 378.6Z" fill="#111"/><text x="623.7" y="369.2" font-size="6" font-weight="bold" fill="#111">x’</text>
</svg>
</body></html>
